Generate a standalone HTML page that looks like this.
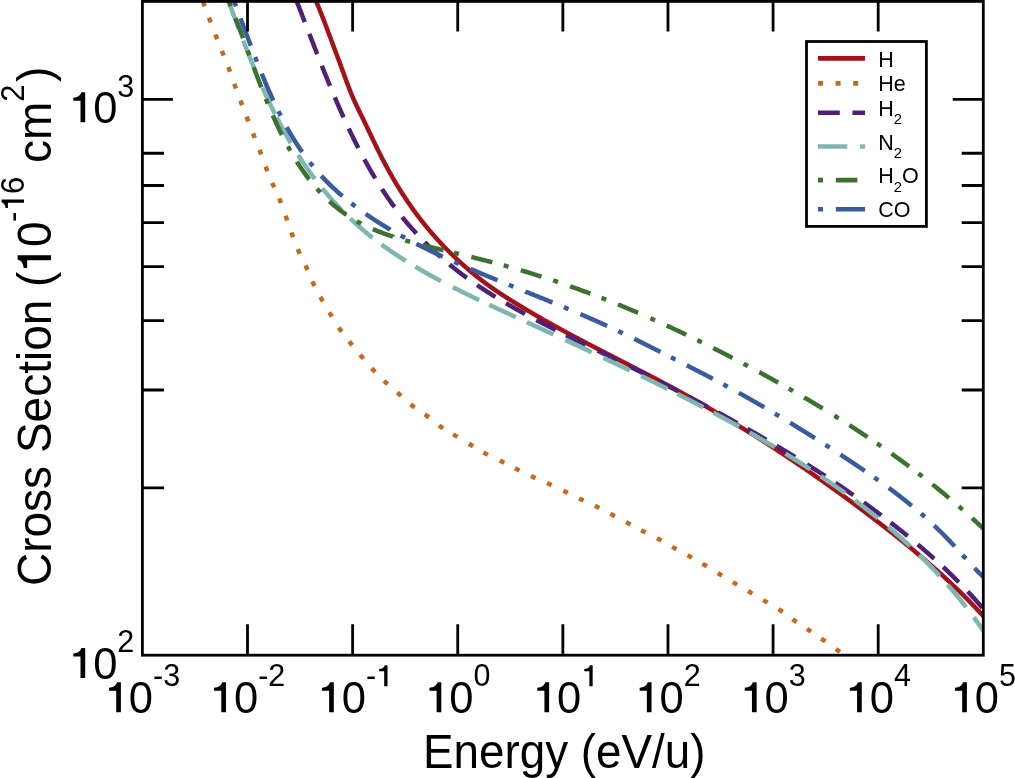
<!DOCTYPE html><html><head><meta charset="utf-8"><style>html,body{margin:0;padding:0;background:#fff;overflow:hidden}svg{display:block;will-change:transform}text{font-family:"Liberation Sans",sans-serif;fill:#000}</style></head><body>
<svg width="1015" height="778" viewBox="0 0 1015 778">
<defs><clipPath id="c"><rect x="142.4" y="1.4" width="840.9" height="653.8000000000001"/></clipPath></defs>
<rect width="1015" height="778" fill="#fff"/>
<g clip-path="url(#c)" fill="none" stroke-width="4.5" stroke-linecap="butt" stroke-linejoin="round">
<path d="M312.23,-8.03 L312.61,-7.11 L313.00,-6.18 L313.39,-5.26 L313.77,-4.34 L314.16,-3.42 L314.54,-2.49 L314.93,-1.57 L315.31,-0.65 L315.70,0.27 L316.09,1.20 L316.47,2.12 L316.86,3.04 L317.16,3.74 L317.45,4.45 L317.75,5.15 L318.04,5.86 L318.34,6.56 L318.63,7.27 L318.92,7.98 L319.21,8.69 L319.50,9.40 L319.79,10.11 L320.08,10.82 L320.36,11.54 L320.65,12.25 L320.93,12.97 L321.22,13.68 L321.50,14.40 L321.78,15.12 L322.06,15.84 L322.35,16.55 L322.63,17.27 L322.91,17.99 L323.19,18.71 L323.46,19.44 L323.74,20.16 L324.02,20.88 L324.30,21.60 L324.57,22.33 L324.85,23.05 L325.12,23.78 L325.40,24.50 L325.67,25.23 L325.95,25.95 L326.22,26.68 L326.50,27.40 L326.77,28.13 L327.04,28.86 L327.31,29.59 L327.59,30.31 L327.86,31.04 L328.13,31.77 L328.40,32.50 L328.67,33.23 L328.95,33.95 L329.22,34.68 L329.49,35.41 L329.76,36.14 L330.03,36.87 L330.30,37.60 L330.57,38.33 L330.84,39.06 L331.12,39.78 L331.39,40.51 L331.66,41.24 L331.93,41.97 L332.20,42.70 L332.47,43.43 L332.75,44.15 L333.02,44.88 L333.29,45.61 L333.56,46.34 L333.84,47.06 L334.11,47.79 L334.38,48.52 L334.66,49.24 L334.93,49.97 L335.20,50.70 L335.48,51.42 L335.75,52.15 L336.03,52.87 L336.30,53.60 L336.57,54.33 L336.85,55.05 L337.12,55.78 L337.39,56.51 L337.67,57.23 L337.94,57.96 L338.21,58.69 L338.48,59.42 L338.75,60.15 L339.03,60.87 L339.30,61.60 L339.57,62.33 L339.84,63.06 L340.11,63.79 L340.38,64.52 L340.64,65.26 L340.91,65.99 L341.18,66.72 L341.45,67.45 L341.71,68.19 L341.98,68.92 L342.25,69.65 L342.51,70.39 L342.78,71.12 L343.04,71.86 L343.31,72.59 L343.57,73.33 L343.84,74.06 L344.10,74.80 L344.37,75.53 L344.63,76.27 L344.90,77.00 L345.17,77.73 L345.43,78.47 L345.70,79.20 L345.97,79.93 L346.24,80.66 L346.51,81.39 L346.78,82.12 L347.05,82.85 L347.32,83.58 L347.59,84.31 L347.87,85.03 L348.14,85.76 L348.42,86.48 L348.70,87.20 L348.97,87.93 L349.25,88.65 L349.53,89.37 L349.82,90.08 L350.10,90.80 L350.39,91.51 L350.67,92.23 L350.96,92.94 L351.25,93.65 L351.54,94.36 L351.84,95.06 L352.13,95.77 L352.43,96.47 L352.73,97.17 L353.03,97.87 L353.33,98.57 L353.64,99.26 L353.95,99.95 L354.26,100.64 L354.57,101.33 L354.88,102.02 L355.20,102.70 L355.51,103.39 L355.83,104.07 L356.15,104.75 L356.47,105.43 L356.79,106.11 L357.11,106.79 L357.44,107.46 L357.76,108.14 L358.09,108.81 L358.41,109.49 L358.74,110.16 L359.07,110.83 L359.39,111.51 L359.72,112.18 L360.05,112.85 L360.38,113.52 L360.71,114.19 L361.04,114.86 L361.37,115.53 L361.70,116.20 L362.03,116.87 L362.36,117.54 L362.69,118.21 L363.02,118.88 L363.34,119.56 L363.67,120.23 L364.00,120.90 L364.33,121.57 L364.65,122.25 L364.98,122.92 L365.30,123.60 L365.63,124.27 L365.95,124.95 L366.28,125.62 L366.60,126.30 L366.92,126.98 L367.25,127.65 L367.57,128.33 L367.89,129.01 L368.21,129.69 L368.54,130.36 L368.86,131.04 L369.18,131.72 L369.50,132.40 L369.83,133.07 L370.15,133.75 L370.47,134.43 L370.79,135.11 L371.11,135.79 L371.44,136.46 L371.76,137.14 L372.08,137.82 L372.40,138.50 L372.73,139.17 L373.05,139.85 L373.37,140.53 L373.70,141.20 L374.02,141.88 L374.34,142.56 L374.67,143.23 L374.99,143.91 L375.32,144.58 L375.65,145.25 L375.97,145.93 L376.30,146.60 L376.63,147.27 L376.95,147.95 L377.28,148.62 L377.61,149.29 L377.94,149.96 L378.27,150.63 L378.60,151.30 L378.93,151.97 L379.27,152.63 L379.60,153.30 L379.94,153.96 L380.27,154.63 L380.61,155.29 L380.94,155.96 L381.28,156.62 L381.62,157.28 L381.96,157.94 L382.30,158.60 L382.64,159.26 L382.98,159.92 L383.32,160.58 L383.67,161.23 L384.01,161.89 L384.35,162.55 L384.70,163.20 L385.05,163.85 L385.39,164.51 L385.74,165.16 L386.09,165.81 L386.44,166.46 L386.79,167.11 L387.14,167.76 L387.50,168.40 L387.85,169.05 L388.20,169.70 L388.56,170.34 L388.92,170.98 L389.27,171.63 L389.63,172.27 L389.99,172.91 L390.35,173.55 L390.71,174.19 L391.07,174.83 L391.43,175.47 L391.80,176.10 L392.16,176.74 L392.53,177.37 L392.89,178.01 L393.26,178.64 L393.63,179.27 L393.99,179.91 L394.36,180.54 L394.73,181.17 L395.11,181.79 L395.48,182.42 L395.85,183.05 L396.23,183.67 L396.60,184.30 L396.98,184.92 L397.35,185.55 L397.73,186.17 L398.11,186.79 L398.49,187.41 L398.87,188.03 L399.25,188.65 L399.64,189.26 L400.02,189.88 L400.41,190.49 L400.79,191.11 L401.18,191.72 L401.57,192.33 L401.96,192.94 L402.34,193.56 L402.74,194.16 L403.13,194.77 L403.52,195.38 L403.91,195.99 L404.31,196.59 L404.70,197.20 L405.10,197.80 L405.50,198.40 L405.90,199.00 L406.30,199.60 L406.70,200.20 L407.10,200.80 L407.50,201.40 L407.91,201.99 L408.31,202.59 L408.72,203.18 L409.12,203.78 L409.53,204.37 L409.94,204.96 L410.35,205.55 L410.76,206.14 L411.17,206.73 L411.59,207.31 L412.00,207.90 L412.42,208.48 L412.83,209.07 L413.25,209.65 L413.67,210.23 L414.09,210.81 L414.51,211.39 L414.93,211.97 L415.36,212.54 L415.78,213.12 L416.20,213.70 L416.63,214.27 L417.06,214.84 L417.49,215.41 L417.92,215.98 L418.35,216.55 L418.78,217.12 L419.21,217.69 L419.64,218.26 L420.08,218.82 L420.52,219.38 L420.95,219.95 L421.39,220.51 L421.83,221.07 L422.27,221.63 L422.71,222.19 L423.16,222.74 L423.60,223.30 L424.04,223.86 L424.49,224.41 L424.94,224.96 L425.39,225.51 L425.83,226.07 L426.28,226.62 L426.74,227.16 L427.19,227.71 L427.64,228.26 L428.10,228.80 L428.55,229.35 L429.01,229.89 L429.47,230.43 L429.93,230.97 L430.39,231.51 L430.85,232.05 L431.31,232.59 L431.77,233.13 L432.24,233.66 L432.70,234.20 L433.17,234.73 L433.64,235.26 L434.10,235.80 L434.57,236.33 L435.05,236.85 L435.52,237.38 L435.99,237.91 L436.46,238.44 L436.94,238.96 L437.41,239.49 L437.89,240.01 L438.37,240.53 L438.85,241.05 L439.33,241.57 L439.81,242.09 L440.29,242.61 L440.78,243.12 L441.26,243.64 L441.74,244.16 L442.23,244.67 L442.72,245.18 L443.21,245.69 L443.70,246.20 L444.19,246.71 L444.68,247.22 L445.17,247.73 L445.66,248.24 L446.16,248.74 L446.66,249.24 L447.15,249.75 L447.65,250.25 L448.15,250.75 L448.65,251.25 L449.15,251.75 L449.65,252.25 L450.15,252.75 L450.66,253.24 L451.16,253.74 L451.67,254.23 L452.17,254.73 L452.68,255.22 L453.19,255.71 L453.70,256.20 L454.21,256.69 L454.72,257.18 L455.24,257.66 L455.75,258.15 L456.27,258.63 L456.78,259.12 L457.30,259.60 L457.82,260.08 L458.34,260.56 L458.86,261.04 L459.38,261.52 L459.90,262.00 L460.42,262.48 L460.95,262.95 L461.47,263.43 L462.00,263.90 L462.52,264.38 L463.05,264.85 L463.58,265.32 L464.11,265.79 L464.64,266.26 L465.17,266.73 L465.70,267.20 L466.24,267.66 L466.77,268.13 L467.31,268.59 L467.85,269.05 L468.38,269.52 L468.92,269.98 L469.46,270.44 L470.00,270.90 L470.55,271.35 L471.09,271.81 L471.64,272.26 L472.18,272.72 L472.73,273.17 L473.28,273.62 L473.83,274.07 L474.38,274.52 L474.93,274.97 L475.48,275.42 L476.04,275.86 L476.59,276.31 L477.15,276.75 L477.70,277.20 L478.26,277.64 L478.82,278.08 L479.38,278.52 L479.94,278.96 L480.51,279.39 L481.07,279.83 L481.64,280.26 L482.20,280.70 L482.77,281.13 L483.34,281.56 L483.91,281.99 L484.48,282.42 L485.05,282.85 L485.63,283.27 L486.20,283.70 L486.78,284.12 L487.35,284.55 L487.93,284.97 L488.51,285.39 L489.09,285.81 L489.68,286.22 L490.26,286.64 L490.84,287.06 L491.43,287.47 L492.01,287.89 L492.60,288.30 L493.19,288.71 L493.78,289.12 L494.37,289.53 L494.97,289.93 L495.56,290.34 L496.15,290.75 L496.75,291.15 L497.35,291.55 L497.94,291.96 L498.54,292.36 L499.14,292.76 L499.74,293.16 L500.35,293.55 L500.95,293.95 L501.55,294.35 L502.16,294.74 L502.77,295.13 L503.37,295.53 L503.98,295.92 L504.59,296.31 L505.20,296.70 L505.81,297.09 L506.42,297.48 L507.03,297.87 L507.64,298.26 L508.26,298.64 L508.87,299.03 L509.49,299.41 L510.10,299.80 L510.72,300.18 L511.33,300.57 L511.95,300.95 L512.57,301.33 L513.19,301.71 L513.80,302.10 L514.42,302.48 L515.04,302.86 L515.66,303.24 L516.28,303.62 L516.90,304.00 L517.52,304.38 L518.15,304.75 L518.77,305.13 L519.39,305.51 L520.01,305.89 L520.64,306.26 L521.26,306.64 L521.88,307.02 L522.51,307.39 L523.13,307.77 L523.75,308.15 L524.38,308.52 L525.00,308.90 L525.63,309.27 L526.25,309.65 L526.88,310.02 L527.50,310.40 L528.13,310.77 L528.75,311.15 L529.38,311.52 L530.01,311.89 L530.64,312.26 L531.26,312.64 L531.89,313.01 L532.52,313.38 L533.15,313.75 L533.78,314.12 L534.42,314.48 L535.05,314.85 L535.68,315.22 L536.31,315.59 L536.95,315.95 L537.58,316.32 L538.21,316.69 L538.85,317.05 L539.48,317.42 L540.12,317.78 L540.75,318.15 L541.39,318.51 L542.02,318.88 L542.66,319.24 L543.30,319.60 L543.94,319.96 L544.57,320.33 L545.21,320.69 L545.85,321.05 L546.49,321.41 L547.13,321.77 L547.77,322.13 L548.41,322.49 L549.05,322.85 L549.69,323.21 L550.33,323.57 L550.98,323.92 L551.62,324.28 L552.26,324.64 L552.90,325.00 L553.55,325.35 L554.19,325.71 L554.83,326.07 L555.48,326.42 L556.12,326.78 L556.77,327.13 L557.41,327.49 L558.06,327.84 L558.70,328.20 L559.35,328.55 L560.00,328.90 L560.64,329.26 L561.29,329.61 L561.94,329.96 L562.59,330.31 L563.23,330.67 L563.88,331.02 L564.53,331.37 L565.18,331.72 L565.83,332.07 L566.48,332.42 L567.13,332.77 L567.78,333.12 L568.43,333.47 L569.08,333.82 L569.73,334.17 L570.38,334.52 L571.03,334.87 L571.68,335.22 L572.34,335.56 L572.99,335.91 L573.64,336.26 L574.29,336.61 L574.95,336.95 L575.60,337.30 L576.25,337.65 L576.90,338.00 L577.56,338.34 L578.21,338.69 L578.87,339.03 L579.52,339.38 L580.18,339.72 L580.83,340.07 L581.49,340.41 L582.14,340.76 L582.80,341.10 L583.45,341.45 L584.11,341.79 L584.76,342.14 L585.42,342.48 L586.08,342.82 L586.73,343.17 L587.39,343.51 L588.04,343.86 L588.70,344.20 L589.36,344.54 L590.02,344.88 L590.67,345.23 L591.33,345.57 L591.99,345.91 L592.65,346.25 L593.30,346.60 L593.96,346.94 L594.62,347.28 L595.28,347.62 L595.94,347.96 L596.60,348.30 L597.25,348.65 L597.91,348.99 L598.57,349.33 L599.23,349.67 L599.89,350.01 L600.55,350.35 L601.21,350.69 L601.87,351.03 L602.53,351.37 L603.19,351.71 L603.85,352.05 L604.51,352.39 L605.17,352.73 L605.83,353.07 L606.49,353.41 L607.15,353.75 L607.81,354.09 L608.47,354.43 L609.13,354.77 L609.79,355.11 L610.45,355.45 L611.11,355.79 L611.77,356.13 L612.43,356.47 L613.09,356.81 L613.75,357.15 L614.41,357.49 L615.07,357.83 L615.73,358.17 L616.39,358.51 L617.05,358.85 L617.71,359.19 L618.37,359.53 L619.04,359.86 L619.70,360.20 L620.36,360.54 L621.02,360.88 L621.68,361.22 L622.34,361.56 L623.00,361.90 L623.66,362.24 L624.32,362.58 L624.98,362.92 L625.64,363.26 L626.30,363.60 L626.96,363.94 L627.62,364.28 L628.28,364.62 L628.94,364.96 L629.60,365.30 L630.26,365.64 L630.92,365.98 L631.58,366.32 L632.24,366.66 L632.90,367.00 L633.56,367.34 L634.22,367.68 L634.88,368.02 L635.54,368.36 L636.20,368.70 L636.86,369.04 L637.52,369.38 L638.18,369.72 L638.84,370.06 L639.50,370.40 L640.16,370.74 L640.82,371.08 L641.48,371.42 L642.13,371.77 L642.79,372.11 L643.45,372.45 L644.11,372.79 L644.77,373.13 L645.43,373.47 L646.08,373.82 L646.74,374.16 L647.40,374.50 L648.06,374.84 L648.71,375.19 L649.37,375.53 L650.03,375.87 L650.68,376.22 L651.34,376.56 L652.00,376.90 L652.65,377.25 L653.31,377.59 L653.97,377.93 L654.62,378.28 L655.28,378.62 L655.93,378.97 L656.59,379.31 L657.24,379.66 L657.90,380.00 L658.55,380.35 L659.21,380.69 L659.86,381.04 L660.51,381.39 L661.17,381.73 L661.82,382.08 L662.47,382.43 L663.13,382.77 L663.78,383.12 L664.43,383.47 L665.09,383.81 L665.74,384.16 L666.39,384.51 L667.04,384.86 L667.69,385.21 L668.34,385.56 L668.99,385.91 L669.65,386.25 L670.30,386.60 L670.95,386.95 L671.60,387.30 L672.25,387.65 L672.89,388.01 L673.54,388.36 L674.19,388.71 L674.84,389.06 L675.49,389.41 L676.14,389.76 L676.78,390.12 L677.43,390.47 L678.08,390.82 L678.72,391.18 L679.37,391.53 L680.02,391.88 L680.66,392.24 L681.31,392.59 L681.95,392.95 L682.60,393.30 L683.24,393.66 L683.89,394.01 L684.53,394.37 L685.18,394.72 L685.82,395.08 L686.46,395.44 L687.11,395.79 L687.75,396.15 L688.39,396.51 L689.03,396.87 L689.68,397.22 L690.32,397.58 L690.96,397.94 L691.60,398.30 L692.24,398.66 L692.88,399.02 L693.52,399.38 L694.16,399.74 L694.80,400.10 L695.44,400.46 L696.08,400.82 L696.72,401.18 L697.36,401.54 L698.00,401.90 L698.63,402.27 L699.27,402.63 L699.91,402.99 L700.55,403.35 L701.18,403.72 L701.82,404.08 L702.46,404.44 L703.09,404.81 L703.73,405.17 L704.36,405.54 L705.00,405.90 L705.63,406.27 L706.27,406.63 L706.90,407.00 L707.54,407.36 L708.17,407.73 L708.80,408.10 L709.44,408.46 L710.07,408.83 L710.70,409.20 L711.34,409.56 L711.97,409.93 L712.60,410.30 L713.23,410.67 L713.86,411.04 L714.49,411.41 L715.13,411.77 L715.76,412.14 L716.39,412.51 L717.02,412.88 L717.65,413.25 L718.28,413.62 L718.91,413.99 L719.53,414.37 L720.16,414.74 L720.79,415.11 L721.42,415.48 L722.05,415.85 L722.68,416.22 L723.30,416.60 L723.93,416.97 L724.56,417.34 L725.18,417.72 L725.81,418.09 L726.44,418.46 L727.06,418.84 L727.69,419.21 L728.31,419.59 L728.94,419.96 L729.56,420.34 L730.19,420.71 L730.81,421.09 L731.44,421.46 L732.06,421.84 L732.68,422.22 L733.31,422.59 L733.93,422.97 L734.55,423.35 L735.17,423.73 L735.80,424.10 L736.42,424.48 L737.04,424.86 L737.66,425.24 L738.28,425.62 L738.90,426.00 L739.52,426.38 L740.14,426.76 L740.76,427.14 L741.38,427.52 L742.00,427.90 L742.62,428.28 L743.24,428.66 L743.86,429.04 L744.48,429.42 L745.10,429.80 L745.71,430.19 L746.33,430.57 L746.95,430.95 L747.57,431.33 L748.18,431.72 L748.80,432.10 L749.42,432.48 L750.03,432.87 L750.65,433.25 L751.26,433.64 L751.88,434.02 L752.49,434.41 L753.11,434.79 L753.72,435.18 L754.34,435.56 L754.95,435.95 L755.57,436.33 L756.18,436.72 L756.79,437.11 L757.40,437.50 L758.02,437.88 L758.63,438.27 L759.24,438.66 L759.85,439.05 L760.47,439.43 L761.08,439.82 L761.69,440.21 L762.30,440.60 L762.91,440.99 L763.52,441.38 L764.13,441.77 L764.74,442.16 L765.35,442.55 L765.96,442.94 L766.57,443.33 L767.18,443.72 L767.79,444.11 L768.40,444.50 L769.00,444.90 L769.61,445.29 L770.22,445.68 L770.83,446.07 L771.43,446.47 L772.04,446.86 L772.65,447.25 L773.25,447.65 L773.86,448.04 L774.47,448.43 L775.07,448.83 L775.68,449.22 L776.28,449.62 L776.89,450.01 L777.49,450.41 L778.10,450.80 L778.70,451.20 L779.30,451.60 L779.91,451.99 L780.51,452.39 L781.11,452.79 L781.72,453.18 L782.32,453.58 L782.92,453.98 L783.52,454.38 L784.13,454.77 L784.73,455.17 L785.33,455.57 L785.93,455.97 L786.53,456.37 L787.13,456.77 L787.73,457.17 L788.33,457.57 L788.93,457.97 L789.53,458.37 L790.13,458.77 L790.73,459.17 L791.33,459.57 L791.93,459.97 L792.53,460.37 L793.13,460.77 L793.72,461.18 L794.32,461.58 L794.92,461.98 L795.52,462.38 L796.11,462.79 L796.71,463.19 L797.31,463.59 L797.90,464.00 L798.50,464.40 L799.09,464.81 L799.69,465.21 L800.29,465.61 L800.88,466.02 L801.48,466.42 L802.07,466.83 L802.66,467.24 L803.26,467.64 L803.85,468.05 L804.45,468.45 L805.04,468.86 L805.63,469.27 L806.23,469.67 L806.82,470.08 L807.41,470.49 L808.00,470.90 L808.59,471.31 L809.19,471.71 L809.78,472.12 L810.37,472.53 L810.96,472.94 L811.55,473.35 L812.14,473.76 L812.73,474.17 L813.32,474.58 L813.91,474.99 L814.50,475.40 L815.09,475.81 L815.68,476.22 L816.27,476.63 L816.86,477.04 L817.45,477.45 L818.03,477.87 L818.62,478.28 L819.21,478.69 L819.80,479.10 L820.38,479.52 L820.97,479.93 L821.56,480.34 L822.14,480.76 L822.73,481.17 L823.32,481.58 L823.90,482.00 L824.49,482.41 L825.07,482.83 L825.66,483.24 L826.24,483.66 L826.83,484.07 L827.41,484.49 L828.00,484.90 L828.58,485.32 L829.16,485.74 L829.75,486.15 L830.33,486.57 L830.91,486.99 L831.50,487.40 L832.08,487.82 L832.66,488.24 L833.24,488.66 L833.83,489.07 L834.41,489.49 L834.99,489.91 L835.57,490.33 L836.15,490.75 L836.73,491.17 L837.31,491.59 L837.89,492.01 L838.47,492.43 L839.05,492.85 L839.63,493.27 L840.21,493.69 L840.79,494.11 L841.37,494.53 L841.95,494.95 L842.53,495.37 L843.10,495.80 L843.68,496.22 L844.26,496.64 L844.84,497.06 L845.42,497.48 L845.99,497.91 L846.57,498.33 L847.15,498.75 L847.72,499.18 L848.30,499.60 L848.87,500.03 L849.45,500.45 L850.03,500.87 L850.60,501.30 L851.18,501.72 L851.75,502.15 L852.33,502.57 L852.90,503.00 L853.47,503.43 L854.05,503.85 L854.62,504.28 L855.20,504.70 L855.77,505.13 L856.34,505.56 L856.92,505.98 L857.49,506.41 L858.06,506.84 L858.63,507.27 L859.20,507.70 L859.78,508.12 L860.35,508.55 L860.92,508.98 L861.49,509.41 L862.06,509.84 L862.63,510.27 L863.20,510.70 L863.77,511.13 L864.34,511.56 L864.91,511.99 L865.48,512.42 L866.05,512.85 L866.62,513.28 L867.19,513.71 L867.76,514.14 L868.33,514.57 L868.89,515.01 L869.46,515.44 L870.03,515.87 L870.60,516.30 L871.17,516.73 L871.73,517.17 L872.30,517.60 L872.87,518.03 L873.43,518.47 L874.00,518.90 L874.57,519.33 L875.13,519.77 L875.70,520.20 L876.26,520.64 L876.83,521.07 L877.39,521.51 L877.96,521.94 L878.52,522.38 L879.09,522.81 L879.65,523.25 L880.21,523.69 L880.78,524.12 L881.34,524.56 L881.91,524.99 L882.47,525.43 L883.03,525.87 L883.59,526.31 L884.16,526.74 L884.72,527.18 L885.28,527.62 L885.84,528.06 L886.40,528.50 L886.96,528.94 L887.52,529.38 L888.08,529.82 L888.64,530.26 L889.20,530.70 L889.76,531.14 L890.32,531.58 L890.88,532.02 L891.44,532.46 L892.00,532.90 L892.56,533.34 L893.12,533.78 L893.68,534.22 L894.23,534.67 L894.79,535.11 L895.35,535.55 L895.90,536.00 L896.46,536.44 L897.02,536.88 L897.57,537.33 L898.13,537.77 L898.68,538.22 L899.24,538.66 L899.79,539.11 L900.35,539.55 L900.90,540.00 L901.45,540.45 L902.01,540.89 L902.56,541.34 L903.11,541.79 L903.67,542.23 L904.22,542.68 L904.77,543.13 L905.32,543.58 L905.87,544.03 L906.42,544.48 L906.97,544.93 L907.52,545.38 L908.07,545.83 L908.62,546.28 L909.17,546.73 L909.72,547.18 L910.27,547.63 L910.82,548.08 L911.36,548.54 L911.91,548.99 L912.46,549.44 L913.00,549.90 L913.55,550.35 L914.10,550.80 L914.64,551.26 L915.19,551.71 L915.73,552.17 L916.28,552.62 L916.82,553.08 L917.36,553.54 L917.91,553.99 L918.45,554.45 L918.99,554.91 L919.54,555.36 L920.08,555.82 L920.62,556.28 L921.16,556.74 L921.70,557.20 L922.24,557.66 L922.78,558.12 L923.32,558.58 L923.86,559.04 L924.40,559.50 L924.94,559.96 L925.47,560.43 L926.01,560.89 L926.55,561.35 L927.08,561.82 L927.62,562.28 L928.16,562.74 L928.69,563.21 L929.23,563.67 L929.76,564.14 L930.30,564.60 L930.83,565.07 L931.36,565.54 L931.90,566.00 L932.43,566.47 L932.96,566.94 L933.49,567.41 L934.02,567.88 L934.55,568.35 L935.08,568.82 L935.61,569.29 L936.14,569.76 L936.67,570.23 L937.20,570.70 L937.73,571.17 L938.25,571.65 L938.78,572.12 L939.31,572.59 L939.83,573.07 L940.36,573.54 L940.88,574.02 L941.41,574.49 L941.93,574.97 L942.46,575.44 L942.98,575.92 L943.50,576.40 L944.02,576.88 L944.55,577.35 L945.07,577.83 L945.59,578.31 L946.11,578.79 L946.63,579.27 L947.15,579.75 L947.67,580.23 L948.18,580.72 L948.70,581.20 L949.22,581.68 L949.74,582.16 L950.25,582.65 L950.77,583.13 L951.28,583.62 L951.80,584.10 L952.31,584.59 L952.83,585.07 L953.34,585.56 L953.85,586.05 L954.36,586.54 L954.87,587.03 L955.39,587.51 L955.90,588.00 L956.41,588.49 L956.92,588.98 L957.42,589.48 L957.93,589.97 L958.44,590.46 L958.95,590.95 L959.45,591.45 L959.96,591.94 L960.47,592.43 L960.97,592.93 L961.47,593.43 L961.98,593.92 L962.48,594.42 L962.98,594.92 L963.49,595.41 L963.99,595.91 L964.49,596.41 L964.99,596.91 L965.49,597.41 L965.99,597.91 L966.49,598.41 L966.99,598.91 L967.48,599.42 L967.98,599.92 L968.48,600.42 L968.97,600.93 L969.47,601.43 L969.96,601.94 L970.46,602.44 L970.95,602.95 L971.44,603.46 L971.94,603.96 L972.43,604.47 L972.92,604.98 L973.41,605.49 L973.90,606.00 L974.39,606.51 L974.88,607.02 L975.36,607.54 L975.85,608.05 L976.34,608.56 L976.82,609.08 L977.31,609.59 L977.79,610.11 L978.28,610.62 L978.76,611.14 L979.24,611.66 L979.73,612.17 L980.21,612.69 L980.69,613.21 L981.37,613.94 L982.05,614.67 L982.74,615.40 L983.42,616.14 L984.10,616.87 L984.78,617.60 L985.46,618.33 L986.15,619.06 L986.83,619.79 L987.51,620.52 L988.19,621.26 L988.87,621.99" stroke="#a51118"/>
<g fill="#c36a1c" stroke="none"><rect x="-2.5" y="-2.25" width="5" height="4.5" transform="translate(203.8,3.9) rotate(69.2)"/><rect x="-2.5" y="-2.25" width="5" height="4.5" transform="translate(209.9,20.0) rotate(69.2)"/><rect x="-2.5" y="-2.25" width="5" height="4.5" transform="translate(216.3,36.8) rotate(68.8)"/><rect x="-2.5" y="-2.25" width="5" height="4.5" transform="translate(222.8,53.2) rotate(68.4)"/><rect x="-2.5" y="-2.25" width="5" height="4.5" transform="translate(229.2,69.4) rotate(69.5)"/><rect x="-2.5" y="-2.25" width="5" height="4.5" transform="translate(235.1,86.1) rotate(70.1)"/><rect x="-2.5" y="-2.25" width="5" height="4.5" transform="translate(241.3,102.8) rotate(69.3)"/><rect x="-2.5" y="-2.25" width="5" height="4.5" transform="translate(247.5,119.0) rotate(69.0)"/><rect x="-2.5" y="-2.25" width="5" height="4.5" transform="translate(253.9,135.7) rotate(68.9)"/><rect x="-2.5" y="-2.25" width="5" height="4.5" transform="translate(260.3,152.2) rotate(69.2)"/><rect x="-2.5" y="-2.25" width="5" height="4.5" transform="translate(266.5,168.9) rotate(68.6)"/><rect x="-2.5" y="-2.25" width="5" height="4.5" transform="translate(273.2,185.1) rotate(66.8)"/><rect x="-2.5" y="-2.25" width="5" height="4.5" transform="translate(280.1,200.7) rotate(68.2)"/><rect x="-2.5" y="-2.25" width="5" height="4.5" transform="translate(286.4,218.1) rotate(70.3)"/><rect x="-2.5" y="-2.25" width="5" height="4.5" transform="translate(292.3,234.8) rotate(69.6)"/><rect x="-2.5" y="-2.25" width="5" height="4.5" transform="translate(298.8,251.5) rotate(66.7)"/><rect x="-2.5" y="-2.25" width="5" height="4.5" transform="translate(306.5,267.7) rotate(65.6)"/><rect x="-2.5" y="-2.25" width="5" height="4.5" transform="translate(313.4,283.7) rotate(64.3)"/><rect x="-2.5" y="-2.25" width="5" height="4.5" transform="translate(321.6,299.1) rotate(60.8)"/><rect x="-2.5" y="-2.25" width="5" height="4.5" transform="translate(330.6,314.5) rotate(58.7)"/><rect x="-2.5" y="-2.25" width="5" height="4.5" transform="translate(340.2,329.7) rotate(55.1)"/><rect x="-2.5" y="-2.25" width="5" height="4.5" transform="translate(350.7,343.3) rotate(51.3)"/><rect x="-2.5" y="-2.25" width="5" height="4.5" transform="translate(361.8,356.7) rotate(49.7)"/><rect x="-2.5" y="-2.25" width="5" height="4.5" transform="translate(373.4,370.1) rotate(47.1)"/><rect x="-2.5" y="-2.25" width="5" height="4.5" transform="translate(385.8,382.5) rotate(43.0)"/><rect x="-2.5" y="-2.25" width="5" height="4.5" transform="translate(399.2,394.2) rotate(41.1)"/><rect x="-2.5" y="-2.25" width="5" height="4.5" transform="translate(412.6,405.9) rotate(38.1)"/><rect x="-2.5" y="-2.25" width="5" height="4.5" transform="translate(426.9,415.9) rotate(36.5)"/><rect x="-2.5" y="-2.25" width="5" height="4.5" transform="translate(441.0,426.9) rotate(34.7)"/><rect x="-2.5" y="-2.25" width="5" height="4.5" transform="translate(455.3,435.6) rotate(31.1)"/><rect x="-2.5" y="-2.25" width="5" height="4.5" transform="translate(471.0,445.0) rotate(30.8)"/><rect x="-2.5" y="-2.25" width="5" height="4.5" transform="translate(485.7,453.7) rotate(28.2)"/><rect x="-2.5" y="-2.25" width="5" height="4.5" transform="translate(502.1,461.7) rotate(26.5)"/><rect x="-2.5" y="-2.25" width="5" height="4.5" transform="translate(517.2,469.4) rotate(26.3)"/><rect x="-2.5" y="-2.25" width="5" height="4.5" transform="translate(533.2,477.1) rotate(24.6)"/><rect x="-2.5" y="-2.25" width="5" height="4.5" transform="translate(549.3,484.1) rotate(24.4)"/><rect x="-2.5" y="-2.25" width="5" height="4.5" transform="translate(565.6,491.8) rotate(25.7)"/><rect x="-2.5" y="-2.25" width="5" height="4.5" transform="translate(581.3,499.5) rotate(25.5)"/><rect x="-2.5" y="-2.25" width="5" height="4.5" transform="translate(597.1,506.8) rotate(26.3)"/><rect x="-2.5" y="-2.25" width="5" height="4.5" transform="translate(612.6,515.0) rotate(27.9)"/><rect x="-2.5" y="-2.25" width="5" height="4.5" transform="translate(628.3,523.3) rotate(27.9)"/><rect x="-2.5" y="-2.25" width="5" height="4.5" transform="translate(643.4,531.3) rotate(27.4)"/><rect x="-2.5" y="-2.25" width="5" height="4.5" transform="translate(659.2,539.3) rotate(28.5)"/><rect x="-2.5" y="-2.25" width="5" height="4.5" transform="translate(674.3,548.1) rotate(29.2)"/><rect x="-2.5" y="-2.25" width="5" height="4.5" transform="translate(689.8,556.4) rotate(29.1)"/><rect x="-2.5" y="-2.25" width="5" height="4.5" transform="translate(704.7,565.0) rotate(30.7)"/><rect x="-2.5" y="-2.25" width="5" height="4.5" transform="translate(719.9,574.3) rotate(31.3)"/><rect x="-2.5" y="-2.25" width="5" height="4.5" transform="translate(735.0,583.4) rotate(30.7)"/><rect x="-2.5" y="-2.25" width="5" height="4.5" transform="translate(750.2,592.3) rotate(30.6)"/><rect x="-2.5" y="-2.25" width="5" height="4.5" transform="translate(765.4,601.4) rotate(30.9)"/><rect x="-2.5" y="-2.25" width="5" height="4.5" transform="translate(780.6,610.5) rotate(33.5)"/><rect x="-2.5" y="-2.25" width="5" height="4.5" transform="translate(794.6,620.7) rotate(34.9)"/><rect x="-2.5" y="-2.25" width="5" height="4.5" transform="translate(809.0,630.3) rotate(33.9)"/><rect x="-2.5" y="-2.25" width="5" height="4.5" transform="translate(823.3,640.0) rotate(35.0)"/><rect x="-2.5" y="-2.25" width="5" height="4.5" transform="translate(837.9,650.5) rotate(35.7)"/></g>
<path d="M296.90,1.78 297.05,2.15 297.33,2.87 297.61,3.59 297.89,4.31 298.17,5.03 298.45,5.75 298.73,6.47 299.01,7.19 299.29,7.91 299.57,8.63 299.86,9.34 300.14,10.06 300.42,10.78 300.70,11.50 300.98,12.22 301.26,12.94 301.54,13.66 301.82,14.38 302.09,15.11 302.37,15.83 302.65,16.55 302.93,17.27 303.21,17.99 303.49,18.71 303.77,19.43 304.05,20.15 304.33,20.87 304.61,21.59 304.80,22.10M309.35,33.85 309.63,34.57 309.91,35.29 310.19,36.01 310.47,36.73 310.75,37.45 311.03,38.17 311.31,38.89 311.59,39.61 311.87,40.33 312.15,41.05 312.43,41.77 312.71,42.49 312.98,43.22 313.26,43.94 313.54,44.66 313.83,45.37 314.11,46.09 314.39,46.81 314.67,47.53 314.95,48.25 315.23,48.97 315.51,49.69 315.79,50.41 316.07,51.13 316.35,51.85 316.63,52.57 316.91,53.29 317.20,54.00 317.26,54.16M321.82,65.72 322.01,66.19 322.29,66.91 322.58,67.62 322.86,68.34 323.15,69.05 323.44,69.76 323.72,70.48 324.01,71.19 324.30,71.90 324.58,72.62 324.87,73.33 325.16,74.04 325.44,74.76 325.73,75.47 326.02,76.18 326.31,76.89 326.60,77.60 326.89,78.31 327.18,79.02 327.47,79.73 327.76,80.44 328.05,81.15 328.34,81.86 328.63,82.57 328.92,83.28 329.21,83.99 329.50,84.70 329.79,85.41 330.01,85.93M334.81,97.39 335.11,98.09 335.41,98.79 335.71,99.49 336.01,100.19 336.31,100.89 336.61,101.59 336.91,102.29 337.22,102.98 337.52,103.68 337.82,104.38 338.12,105.08 338.43,105.77 338.73,106.47 339.03,107.17 339.34,107.86 339.64,108.56 339.95,109.25 340.26,109.94 340.56,110.64 340.87,111.33 341.18,112.02 341.49,112.71 341.79,113.41 342.10,114.10 342.41,114.79 342.72,115.48 343.03,116.17 343.35,116.85 343.57,117.35M348.72,128.48 349.04,129.16 349.36,129.84 349.68,130.52 350.01,131.19 350.33,131.87 350.65,132.55 350.98,133.22 351.30,133.90 351.63,134.57 351.96,135.24 352.28,135.92 352.61,136.59 352.94,137.26 353.27,137.93 353.60,138.60 353.93,139.27 354.26,139.94 354.59,140.61 354.92,141.28 355.26,141.94 355.59,142.61 355.93,143.27 356.26,143.94 356.60,144.60 356.93,145.27 357.27,145.93 357.61,146.59 357.95,147.25 358.29,147.91 358.35,148.04M364.35,159.38 364.52,159.68 364.87,160.33 365.22,160.98 365.58,161.62 365.94,162.26 366.29,162.91 366.65,163.55 367.01,164.19 367.37,164.83 367.73,165.47 368.09,166.11 368.45,166.75 368.81,167.39 369.17,168.03 369.54,168.66 369.90,169.30 370.27,169.93 370.63,170.57 371.00,171.20 371.37,171.83 371.74,172.46 372.11,173.09 372.48,173.72 372.85,174.35 373.22,174.98 373.60,175.60 373.97,176.23 374.35,176.85 374.72,177.48 375.10,178.10 375.21,178.29M382.05,189.15 382.44,189.76 382.84,190.36 383.23,190.97 383.63,191.57 384.03,192.17 384.43,192.77 384.83,193.37 385.23,193.97 385.63,194.57 386.04,195.16 386.44,195.76 386.85,196.35 387.26,196.94 387.66,197.54 388.07,198.13 388.48,198.72 388.89,199.31 389.31,199.89 389.72,200.48 390.13,201.07 390.55,201.65 390.96,202.24 391.38,202.82 391.80,203.40 392.22,203.98 392.64,204.56 393.06,205.14 393.49,205.71 393.91,206.29 394.33,206.87 394.48,207.06M402.18,217.02 402.62,217.58 403.07,218.13 403.52,218.68 403.97,219.23 404.42,219.78 404.87,220.33 405.33,220.87 405.78,221.42 406.24,221.96 406.69,222.51 407.15,223.05 407.61,223.59 408.07,224.13 408.53,224.67 409.00,225.20 409.46,225.74 409.93,226.27 410.39,226.81 410.86,227.34 411.33,227.87 411.80,228.40 412.27,228.93 412.74,229.46 413.21,229.99 413.69,230.51 414.16,231.04 414.64,231.56 415.12,232.08 415.60,232.60 416.08,233.12 416.43,233.51M424.65,242.04 424.91,242.29 425.41,242.79 425.91,243.29 426.41,243.79 426.92,244.28 427.42,244.78 427.93,245.27 428.43,245.77 428.94,246.26 429.45,246.75 429.96,247.24 430.48,247.72 430.99,248.21 431.50,248.70 432.02,249.18 432.53,249.67 433.05,250.15 433.57,250.63 434.09,251.11 434.61,251.59 435.13,252.07 435.65,252.55 436.17,253.03 436.70,253.50 437.22,253.98 437.75,254.45 438.28,254.92 438.81,255.39 439.34,255.86 439.87,256.33 440.40,256.80 440.56,256.94M449.60,264.60 450.15,265.05 450.70,265.50 451.25,265.95 451.80,266.40 452.36,266.84 452.91,267.29 453.47,267.73 454.03,268.17 454.58,268.62 455.14,269.06 455.70,269.50 456.26,269.94 456.83,270.37 457.39,270.81 457.95,271.25 458.52,271.68 459.08,272.12 459.65,272.55 460.22,272.98 460.79,273.41 461.36,273.84 461.93,274.27 462.50,274.70 463.07,275.13 463.65,275.55 464.22,275.98 464.80,276.40 465.38,276.82 465.95,277.25 466.53,277.67 466.86,277.91M477.11,285.09 477.70,285.50 478.30,285.90 478.90,286.30 479.49,286.71 480.09,287.11 480.69,287.51 481.30,287.90 481.90,288.30 482.50,288.70 483.10,289.10 483.71,289.49 484.31,289.89 484.92,290.28 485.53,290.67 486.13,291.07 486.74,291.46 487.35,291.85 487.96,292.24 488.57,292.63 489.18,293.02 489.80,293.40 490.41,293.79 491.02,294.18 491.64,294.56 492.25,294.95 492.87,295.33 493.49,295.71 494.10,296.10 494.72,296.48 495.34,296.86 495.42,296.91M505.97,303.23 506.60,303.60 507.23,303.97 507.87,304.33 508.50,304.70 509.13,305.07 509.77,305.43 510.40,305.80 511.04,306.16 511.67,306.53 512.31,306.89 512.95,307.25 513.59,307.61 514.22,307.98 514.86,308.34 515.50,308.70 516.14,309.06 516.78,309.42 517.43,309.77 518.07,310.13 518.71,310.49 519.35,310.85 520.00,311.20 520.64,311.56 521.29,311.91 521.93,312.27 522.58,312.62 523.22,312.98 523.87,313.33 524.52,313.68 524.96,313.93M536.25,319.95 536.90,320.30 537.56,320.64 538.22,320.98 538.87,321.33 539.53,321.67 540.19,322.01 540.85,322.35 541.50,322.70 542.16,323.04 542.82,323.38 543.48,323.72 544.14,324.06 544.80,324.40 545.46,324.74 546.12,325.08 546.78,325.42 547.45,325.75 548.11,326.09 548.77,326.43 549.43,326.77 550.09,327.11 550.76,327.44 551.42,327.78 552.09,328.11 552.75,328.45 553.41,328.79 554.08,329.12 554.74,329.46 555.41,329.79 555.64,329.91M566.08,335.12 566.75,335.45 567.42,335.78 568.08,336.12 568.75,336.45 569.42,336.78 570.09,337.11 570.76,337.44 571.43,337.77 572.10,338.10 572.77,338.43 573.44,338.76 574.11,339.09 574.78,339.42 575.45,339.75 576.12,340.08 576.79,340.41 577.46,340.74 578.13,341.07 578.80,341.40 579.48,341.72 580.15,342.05 580.82,342.38 581.49,342.71 582.16,343.04 582.83,343.37 583.50,343.70 584.17,344.03 584.84,344.36 585.52,344.68 585.64,344.74M597.60,350.60 598.27,350.93 598.94,351.26 599.61,351.59 600.28,351.92 600.95,352.25 601.62,352.58 602.29,352.91 602.96,353.24 603.63,353.57 604.30,353.90 604.97,354.23 605.64,354.56 606.31,354.89 606.98,355.22 607.65,355.55 608.32,355.88 608.99,356.21 609.66,356.54 610.33,356.87 611.00,357.20 611.67,357.53 612.33,357.87 613.00,358.20 613.67,358.53 614.34,358.86 615.01,359.19 615.68,359.52 616.35,359.85 617.02,360.18 617.15,360.25M629.03,366.17 629.70,366.50 630.36,366.84 631.03,367.17 631.70,367.50 632.36,367.84 633.03,368.17 633.69,368.51 634.36,368.84 635.02,369.18 635.69,369.51 636.36,369.84 637.02,370.18 637.69,370.51 638.35,370.85 639.02,371.18 639.68,371.52 640.35,371.85 641.01,372.19 641.68,372.52 642.34,372.86 643.00,373.20 643.67,373.53 644.33,373.87 645.00,374.20 645.66,374.54 646.32,374.88 646.99,375.21 647.65,375.55 648.31,375.89 648.50,375.98M658.91,381.28 658.91,381.29 659.57,381.63 660.23,381.97 660.90,382.30 661.56,382.64 662.22,382.98 662.88,383.32 663.54,383.66 664.20,384.00 664.86,384.34 665.52,384.68 666.18,385.02 666.84,385.36 667.50,385.70 668.16,386.04 668.82,386.38 669.48,386.72 670.13,387.07 670.79,387.41 671.45,387.75 672.11,388.09 672.77,388.43 673.43,388.77 674.09,389.11 674.74,389.46 675.40,389.80 676.06,390.14 676.72,390.48 677.37,390.83 678.03,391.17 678.27,391.29M688.62,396.72 689.18,397.02 689.84,397.36 690.49,397.71 691.15,398.05 691.80,398.40 692.45,398.75 693.11,399.09 693.76,399.44 694.41,399.79 695.07,400.13 695.72,400.48 696.37,400.83 697.03,401.17 697.68,401.52 698.33,401.87 698.98,402.22 699.64,402.56 700.29,402.91 700.94,403.26 701.59,403.61 702.24,403.96 702.89,404.31 703.54,404.66 704.20,405.00 704.85,405.35 705.50,405.70 706.15,406.05 706.80,406.40 707.45,406.75 707.85,406.97M718.12,412.54 718.47,412.73 719.12,413.08 719.76,413.44 720.41,413.79 721.06,414.14 721.70,414.50 722.35,414.85 722.99,415.21 723.64,415.56 724.28,415.92 724.93,416.27 725.57,416.63 726.22,416.98 726.86,417.34 727.51,417.69 728.15,418.05 728.79,418.41 729.44,418.76 730.08,419.12 730.72,419.48 731.37,419.83 732.01,420.19 732.65,420.55 733.30,420.90 733.94,421.26 734.58,421.62 735.22,421.98 735.86,422.34 736.50,422.70 737.15,423.05 737.20,423.09M747.38,428.82 748.01,429.19 748.65,429.55 749.29,429.91 749.93,430.27 750.56,430.64 751.20,431.00 751.84,431.36 752.47,431.73 753.11,432.09 753.74,432.46 754.38,432.82 755.01,433.19 755.65,433.55 756.28,433.92 756.92,434.28 757.55,434.65 758.19,435.01 758.82,435.38 759.45,435.75 760.09,436.11 760.72,436.48 761.35,436.85 761.99,437.21 762.62,437.58 763.25,437.95 763.88,438.32 764.51,438.69 765.15,439.05 765.78,439.42 766.27,439.71M776.47,445.73 777.10,446.10 777.73,446.47 778.35,446.85 778.98,447.22 779.61,447.59 780.23,447.97 780.86,448.34 781.48,448.72 782.11,449.09 782.73,449.47 783.36,449.84 783.98,450.22 784.60,450.60 785.23,450.97 785.85,451.35 786.47,451.73 787.10,452.10 787.72,452.48 788.34,452.86 788.96,453.24 789.59,453.61 790.21,453.99 790.83,454.37 791.45,454.75 792.07,455.13 792.69,455.51 793.31,455.89 793.93,456.27 794.55,456.65 795.13,457.01M806.88,464.32 807.49,464.71 808.11,465.09 808.72,465.48 809.33,465.87 809.95,466.25 810.56,466.64 811.17,467.03 811.78,467.42 812.39,467.81 813.00,468.20 813.61,468.59 814.22,468.98 814.83,469.37 815.44,469.76 816.05,470.15 816.66,470.54 817.27,470.93 817.88,471.32 818.49,471.71 819.10,472.10 819.70,472.50 820.31,472.89 820.92,473.28 821.52,473.68 822.13,474.07 822.74,474.46 823.34,474.86 823.95,475.25 824.55,475.65 825.16,476.04 825.23,476.09M835.39,482.81 835.99,483.21 836.59,483.61 837.18,484.02 837.78,484.42 838.38,484.82 838.98,485.22 839.57,485.63 840.17,486.03 840.77,486.43 841.36,486.84 841.96,487.24 842.55,487.65 843.15,488.05 843.74,488.46 844.34,488.86 844.93,489.27 845.52,489.68 846.12,490.08 846.71,490.49 847.30,490.90 847.89,491.31 848.48,491.72 849.08,492.12 849.67,492.53 850.26,492.94 850.85,493.35 851.44,493.76 852.03,494.17 852.62,494.58 853.20,495.00 853.38,495.12M863.74,502.46 864.32,502.88 864.90,503.30 865.49,503.71 866.07,504.13 866.65,504.55 867.23,504.97 867.81,505.39 868.39,505.81 868.96,506.24 869.54,506.66 870.12,507.08 870.70,507.50 871.28,507.92 871.85,508.35 872.43,508.77 873.00,509.20 873.58,509.62 874.16,510.04 874.73,510.47 875.31,510.89 875.88,511.32 876.45,511.75 877.03,512.17 877.60,512.60 878.17,513.03 878.74,513.46 879.32,513.88 879.89,514.31 880.46,514.74 881.03,515.17 881.30,515.38M890.67,522.53 891.23,522.97 891.79,523.41 892.36,523.84 892.92,524.28 893.48,524.72 894.04,525.16 894.60,525.60 895.16,526.04 895.72,526.48 896.28,526.92 896.84,527.36 897.40,527.80 897.96,528.24 898.52,528.68 899.07,529.13 899.63,529.57 900.19,530.01 900.74,530.46 901.30,530.90 901.85,531.35 902.41,531.79 902.96,532.24 903.52,532.68 904.07,533.13 904.62,533.58 905.18,534.02 905.73,534.47 906.28,534.92 906.83,535.37 907.38,535.82 907.73,536.10M917.76,544.44 918.31,544.89 918.85,545.35 919.39,545.81 919.93,546.27 920.47,546.73 921.01,547.19 921.55,547.65 922.08,548.12 922.62,548.58 923.16,549.04 923.70,549.50 924.23,549.97 924.77,550.43 925.30,550.90 925.84,551.36 926.37,551.83 926.91,552.29 927.44,552.76 927.97,553.23 928.50,553.70 929.03,554.17 929.57,554.63 930.10,555.10 930.63,555.57 931.16,556.04 931.68,556.52 932.21,556.99 932.74,557.46 933.27,557.93 933.79,558.41 934.19,558.76M943.18,567.02 943.70,567.50 944.21,567.99 944.73,568.47 945.24,568.96 945.75,569.45 946.27,569.93 946.78,570.42 947.29,570.91 947.80,571.40 948.31,571.89 948.82,572.38 949.33,572.87 949.84,573.36 950.35,573.85 950.85,574.35 951.36,574.84 951.87,575.33 952.37,575.83 952.88,576.32 953.38,576.82 953.89,577.31 954.39,577.81 954.89,578.31 955.39,578.81 955.89,579.31 956.39,579.81 956.89,580.31 957.39,580.81 957.89,581.31 958.39,581.81 958.80,582.23M967.72,591.48 968.20,592.00 968.69,592.51 969.17,593.03 969.65,593.55 970.13,594.07 970.61,594.59 971.09,595.11 971.57,595.63 972.05,596.15 972.53,596.67 973.01,597.19 973.48,597.72 973.96,598.24 974.43,598.77 974.91,599.29 975.38,599.82 975.85,600.35 976.33,600.87 976.80,601.40 977.27,601.93 977.74,602.46 978.21,602.99 978.67,603.53 979.14,604.06 979.61,604.59 980.07,605.13 980.54,605.66 981.00,606.20 981.66,606.95 982.30,607.68" stroke="#4e2176"/>
<path d="M228.57,1.37 228.88,2.22 229.15,2.95 229.41,3.69 229.68,4.42 229.95,5.15 230.22,5.88 230.49,6.61 230.75,7.35 231.02,8.08 231.29,8.81 231.56,9.54 231.83,10.27 232.10,11.00 232.36,11.74 232.63,12.47 232.90,13.20 233.17,13.93 233.44,14.66 233.71,15.39 233.98,16.12 234.25,16.85 234.52,17.58 234.79,18.31 235.06,19.04 235.33,19.77 235.60,20.50 235.87,21.23 236.15,21.95 236.42,22.68 236.69,23.41 236.96,24.14 237.23,24.87 237.51,25.59 237.78,26.32 238.05,27.05 238.32,27.78 238.60,28.50 238.73,28.85M243.29,40.81 243.56,41.54 243.84,42.26 244.12,42.98 244.40,43.70 244.68,44.42 244.96,45.14 245.24,45.86 245.52,46.58 245.80,47.30 246.08,48.02 246.37,48.73 246.65,49.45 246.93,50.17 247.21,50.89 247.50,51.60 247.78,52.32 248.06,53.04 248.35,53.75 248.63,54.47 248.92,55.18 249.20,55.90 249.49,56.61 249.78,57.32 250.06,58.04 250.35,58.75 250.64,59.46 250.93,60.17 251.21,60.89 251.50,61.60 251.79,62.31 252.08,63.02 252.37,63.73 252.66,64.44 252.95,65.15 253.24,65.86 253.54,66.56 253.83,67.27 254.12,67.98 254.14,68.03M262.53,87.57 262.84,88.26 263.15,88.95 263.46,89.64 263.77,90.33 264.08,91.02 264.39,91.71 264.70,92.40 265.01,93.09 265.33,93.77 265.64,94.46 265.95,95.15 266.27,95.83 266.59,96.51 266.90,97.20 267.22,97.88 267.54,98.56 267.85,99.25 268.17,99.93 268.49,100.61 268.81,101.29 269.13,101.97 269.46,102.64 269.78,103.32 270.10,104.00 270.42,104.68 270.75,105.35 271.07,106.03 271.40,106.70 271.73,107.37 272.05,108.05 272.38,108.72 272.71,109.39 273.04,110.06 273.37,110.73 273.70,111.40 274.03,112.07 274.36,112.74 274.69,113.41 275.03,114.07M276.71,117.39 277.05,118.05 277.39,118.71 277.72,119.38 278.07,120.03 278.41,120.69 278.75,121.35 279.09,122.01 279.44,122.66 279.78,123.32 280.12,123.98 280.47,124.63 280.82,125.28 281.17,125.93 281.51,126.59 281.86,127.24 282.21,127.89 282.56,128.54 282.92,129.18 283.27,129.83 283.62,130.48 283.98,131.12 284.33,131.77 284.69,132.41 285.05,133.05 285.40,133.70 285.76,134.34 286.12,134.98 286.48,135.62 286.84,136.26 287.21,136.89 287.57,137.53 287.93,138.17 288.30,138.80 288.66,139.44 289.03,140.07 289.40,140.70 289.77,141.33 290.14,141.96 290.51,142.59 290.79,143.08M298.12,154.98 298.51,155.59 298.90,156.20 299.29,156.81 299.69,157.41 300.08,158.02 300.48,158.62 300.87,159.23 301.27,159.83 301.67,160.43 302.07,161.03 302.47,161.63 302.87,162.23 303.28,162.82 303.68,163.42 304.09,164.01 304.49,164.61 304.90,165.20 305.31,165.79 305.72,166.38 306.13,166.97 306.54,167.56 306.95,168.15 307.36,168.74 307.78,169.32 308.19,169.91 308.61,170.49 309.03,171.07 309.44,171.66 309.86,172.24 310.28,172.82 310.71,173.39 311.13,173.97 311.55,174.55 311.98,175.12 312.40,175.70 312.83,176.27 313.26,176.84 313.69,177.41 314.12,177.98 314.55,178.55 314.89,179.00M322.33,188.43 322.48,188.62 322.93,189.17 323.39,189.71 323.84,190.26 324.29,190.81 324.75,191.35 325.21,191.89 325.66,192.44 326.12,192.98 326.58,193.52 327.04,194.06 327.50,194.60 327.97,195.13 328.43,195.67 328.89,196.21 329.36,196.74 329.83,197.27 330.30,197.80 330.76,198.34 331.23,198.87 331.71,199.39 332.18,199.92 332.65,200.45 333.13,200.97 333.60,201.50 334.08,202.02 334.56,202.54 335.04,203.06 335.52,203.58 336.00,204.10 336.48,204.62 336.96,205.14 337.45,205.65 337.93,206.17 338.42,206.68 338.91,207.19 339.39,207.71 339.88,208.22 340.37,208.73 340.87,209.23 341.36,209.74 341.85,210.25 341.86,210.25M350.42,218.68 350.94,219.16 351.45,219.65 351.97,220.13 352.49,220.61 353.00,221.10 353.52,221.58 354.05,222.05 354.57,222.53 355.09,223.01 355.61,223.49 356.14,223.96 356.67,224.43 357.19,224.91 357.72,225.38 358.25,225.85 358.78,226.32 359.31,226.79 359.85,227.25 360.38,227.72 360.92,228.18 361.45,228.65 361.99,229.11 362.53,229.57 363.07,230.03 363.61,230.49 364.15,230.95 364.70,231.40 365.24,231.86 365.79,232.31 366.33,232.77 366.88,233.22 367.43,233.67 367.98,234.12 368.53,234.57 369.08,235.02 369.64,235.46 370.19,235.91 370.75,236.35 371.30,236.80 371.86,237.24 372.42,237.68 372.60,237.81M381.52,244.58 382.10,245.00 382.68,245.42 383.26,245.84 383.84,246.26 384.42,246.68 385.00,247.10 385.59,247.51 386.17,247.93 386.76,248.34 387.35,248.75 387.93,249.17 388.52,249.58 389.11,249.99 389.70,250.40 390.30,250.80 390.89,251.21 391.48,251.62 392.08,252.02 392.67,252.43 393.27,252.83 393.87,253.23 394.47,253.63 395.07,254.03 395.67,254.43 396.27,254.83 396.87,255.23 397.47,255.63 398.08,256.02 398.68,256.42 399.29,256.81 399.90,257.20 400.50,257.60 401.11,257.99 401.72,258.38 402.33,258.77 402.94,259.16 403.56,259.54 404.17,259.93 404.78,260.32 405.40,260.70 405.81,260.96M415.34,266.76 415.97,267.13 416.60,267.50 417.23,267.87 417.86,268.24 418.49,268.61 419.13,268.97 419.76,269.34 420.39,269.71 421.03,270.07 421.66,270.44 422.30,270.80 422.93,271.17 423.57,271.53 424.21,271.89 424.85,272.25 425.49,272.61 426.13,272.97 426.77,273.33 427.41,273.69 428.05,274.05 428.69,274.41 429.34,274.76 429.98,275.12 430.62,275.48 431.27,275.83 431.92,276.18 432.56,276.54 433.21,276.89 433.86,277.24 434.51,277.59 435.15,277.95 435.80,278.30 436.45,278.65 437.10,279.00 437.76,279.34 438.41,279.69 439.06,280.04 439.71,280.39 440.37,280.73 440.93,281.03M452.89,287.21 453.55,287.55 454.21,287.89 454.88,288.22 455.54,288.56 456.21,288.89 456.88,289.22 457.54,289.56 458.21,289.89 458.88,290.22 459.55,290.55 460.21,290.89 460.88,291.22 461.55,291.55 462.22,291.88 462.89,292.21 463.56,292.54 464.23,292.87 464.90,293.20 465.57,293.53 466.25,293.85 466.92,294.18 467.59,294.51 468.26,294.84 468.94,295.16 469.61,295.49 470.28,295.82 470.96,296.14 471.63,296.47 472.31,296.79 472.98,297.12 473.66,297.44 474.33,297.77 475.01,298.09 475.69,298.41 476.36,298.74 477.04,299.06 477.72,299.38 478.40,299.70 479.07,300.03 479.20,300.09M489.27,304.83 489.95,305.15 490.63,305.47 491.31,305.79 492.00,306.10 492.68,306.42 493.36,306.74 494.04,307.06 494.73,307.37 495.41,307.69 496.09,308.01 496.77,308.33 497.46,308.64 498.14,308.96 498.82,309.28 499.51,309.59 500.19,309.91 500.88,310.22 501.56,310.54 502.24,310.86 502.93,311.17 503.61,311.49 504.30,311.80 504.98,312.12 505.66,312.44 506.35,312.75 507.03,313.07 507.72,313.38 508.40,313.70 509.09,314.01 509.77,314.33 510.46,314.64 511.14,314.96 511.83,315.27 512.51,315.59 513.20,315.90 513.88,316.22 514.57,316.53 515.25,316.85 515.86,317.13M526.89,322.21 527.58,322.52 528.26,322.84 528.95,323.15 529.63,323.47 530.32,323.78 531.00,324.10 531.69,324.41 532.37,324.73 533.06,325.04 533.74,325.36 534.42,325.68 535.11,325.99 535.79,326.31 536.48,326.62 537.16,326.94 537.85,327.25 538.53,327.57 539.22,327.88 539.90,328.20 540.59,328.51 541.27,328.83 541.95,329.15 542.64,329.46 543.32,329.78 544.01,330.09 544.69,330.41 545.38,330.72 546.06,331.04 546.74,331.36 547.43,331.67 548.11,331.99 548.80,332.30 549.48,332.62 550.16,332.94 550.85,333.25 551.53,333.57 552.22,333.88 552.90,334.20 553.50,334.48M565.20,339.90 565.89,340.21 566.57,340.53 567.25,340.85 567.93,341.17 568.62,341.48 569.30,341.80 569.98,342.12 570.66,342.44 571.35,342.75 572.03,343.07 572.71,343.39 573.39,343.71 574.08,344.02 574.76,344.34 575.44,344.66 576.12,344.98 576.81,345.29 577.49,345.61 578.17,345.93 578.85,346.25 579.53,346.57 580.21,346.89 580.90,347.20 581.58,347.52 582.26,347.84 582.94,348.16 583.62,348.48 584.30,348.80 584.98,349.12 585.66,349.44 586.35,349.75 587.03,350.07 587.71,350.39 588.39,350.71 589.07,351.03 589.75,351.35 590.43,351.67 591.11,351.99 591.75,352.29M603.34,357.76 604.02,358.08 604.70,358.40 605.38,358.72 606.06,359.04 606.74,359.36 607.41,359.69 608.09,360.01 608.77,360.33 609.45,360.65 610.13,360.97 610.80,361.30 611.48,361.62 612.16,361.94 612.84,362.26 613.51,362.59 614.19,362.91 614.87,363.23 615.54,363.56 616.22,363.88 616.90,364.20 617.57,364.53 618.25,364.85 618.93,365.17 619.60,365.50 620.28,365.82 620.96,366.14 621.63,366.47 622.31,366.79 622.98,367.12 623.66,367.44 624.33,367.77 625.01,368.09 625.68,368.42 626.36,368.74 627.03,369.07 627.71,369.39 628.38,369.72 629.06,370.04 629.73,370.37 629.78,370.39M641.18,375.92 641.85,376.25 642.52,376.58 643.19,376.91 643.87,377.23 644.54,377.56 645.21,377.89 645.88,378.22 646.55,378.55 647.22,378.88 647.89,379.21 648.56,379.54 649.23,379.87 649.90,380.20 650.57,380.53 651.24,380.86 651.91,381.19 652.58,381.52 653.25,381.85 653.92,382.18 654.59,382.51 655.26,382.84 655.93,383.17 656.60,383.50 657.27,383.83 657.93,384.17 658.60,384.50 659.27,384.83 659.94,385.16 660.61,385.49 661.27,385.83 661.94,386.16 662.61,386.49 663.27,386.83 663.94,387.16 664.61,387.49 665.27,387.83 665.94,388.16 666.61,388.49 667.27,388.83 667.44,388.91M677.24,393.86 677.91,394.19 678.57,394.53 679.23,394.87 679.89,395.21 680.56,395.54 681.22,395.88 681.88,396.22 682.54,396.56 683.20,396.90 683.87,397.23 684.53,397.57 685.19,397.91 685.85,398.25 686.51,398.59 687.17,398.93 687.83,399.27 688.49,399.61 689.15,399.95 689.81,400.29 690.47,400.63 691.13,400.97 691.79,401.31 692.45,401.65 693.11,401.99 693.77,402.33 694.42,402.68 695.08,403.02 695.74,403.36 696.40,403.70 697.05,404.05 697.71,404.39 698.37,404.73 699.03,405.07 699.68,405.42 700.34,405.76 701.00,406.10 701.65,406.45 702.31,406.79 702.96,407.14 703.28,407.30M713.42,412.68 714.08,413.02 714.73,413.37 715.38,413.72 716.03,414.07 716.68,414.42 717.33,414.77 717.98,415.12 718.63,415.47 719.28,415.82 719.93,416.17 720.58,416.52 721.23,416.87 721.88,417.22 722.53,417.57 723.18,417.92 723.83,418.27 724.47,418.63 725.12,418.98 725.77,419.33 726.42,419.68 727.06,420.04 727.71,420.39 728.36,420.74 729.00,421.10 729.65,421.45 730.30,421.80 730.94,422.16 731.59,422.51 732.23,422.87 732.88,423.22 733.52,423.58 734.17,423.93 734.81,424.29 735.45,424.65 736.10,425.00 736.74,425.36 737.38,425.72 738.03,426.07 738.67,426.43 739.15,426.70M749.56,432.54 750.19,432.91 750.83,433.27 751.47,433.63 752.11,433.99 752.74,434.36 753.38,434.72 754.02,435.08 754.65,435.45 755.29,435.81 755.92,436.18 756.56,436.54 757.19,436.91 757.83,437.27 758.46,437.64 759.10,438.00 759.73,438.37 760.36,438.74 761.00,439.10 761.63,439.47 762.26,439.84 762.89,440.21 763.53,440.57 764.16,440.94 764.79,441.31 765.42,441.68 766.05,442.05 766.68,442.42 767.31,442.79 767.94,443.16 768.57,443.53 769.20,443.90 769.83,444.27 770.46,444.64 771.09,445.01 771.71,445.39 772.34,445.76 772.97,446.13 773.60,446.50 774.22,446.88 774.85,447.25 774.88,447.27M785.45,453.65 786.07,454.03 786.69,454.41 787.31,454.79 787.93,455.17 788.55,455.55 789.17,455.93 789.79,456.31 790.40,456.70 791.02,457.08 791.64,457.46 792.26,457.84 792.87,458.23 793.49,458.61 794.10,459.00 794.72,459.38 795.34,459.76 795.95,460.15 796.57,460.53 797.18,460.92 797.79,461.31 798.41,461.69 799.02,462.08 799.63,462.47 800.24,462.86 800.86,463.24 801.47,463.63 802.08,464.02 802.69,464.41 803.30,464.80 803.91,465.19 804.52,465.58 805.13,465.97 805.74,466.36 806.35,466.75 806.96,467.14 807.56,467.54 808.17,467.93 808.78,468.32 809.38,468.72 809.99,469.11 810.24,469.27M820.84,476.26 821.43,476.67 822.03,477.07 822.63,477.47 823.23,477.87 823.83,478.27 824.42,478.68 825.02,479.08 825.61,479.49 826.21,479.89 826.80,480.30 827.40,480.70 827.99,481.11 828.59,481.51 829.18,481.92 829.77,482.33 830.36,482.74 830.96,483.14 831.55,483.55 832.14,483.96 832.73,484.37 833.32,484.78 833.91,485.19 834.50,485.60 835.09,486.01 835.68,486.42 836.26,486.84 836.85,487.25 837.44,487.66 838.02,488.08 838.61,488.49 839.20,488.90 839.78,489.32 840.37,489.73 840.95,490.15 841.53,490.57 842.12,490.98 842.70,491.40 843.28,491.82 843.87,492.23 844.45,492.65 844.90,492.98M854.84,500.26 855.41,500.69 855.98,501.12 856.55,501.55 857.12,501.98 857.69,502.41 858.26,502.84 858.83,503.27 859.40,503.70 859.97,504.13 860.54,504.56 861.11,504.99 861.67,505.43 862.24,505.86 862.81,506.29 863.37,506.73 863.94,507.16 864.50,507.60 865.07,508.03 865.63,508.47 866.19,508.91 866.76,509.34 867.32,509.78 867.88,510.22 868.44,510.66 869.00,511.10 869.56,511.54 870.12,511.98 870.68,512.42 871.24,512.86 871.80,513.30 872.35,513.75 872.91,514.19 873.47,514.63 874.02,515.08 874.58,515.52 875.13,515.97 875.69,516.41 876.24,516.86 876.79,517.31 877.35,517.75 877.90,518.20 877.96,518.25M888.29,526.81 888.83,527.27 889.37,527.73 889.91,528.19 890.45,528.65 890.99,529.11 891.52,529.58 892.06,530.04 892.60,530.50 893.14,530.96 893.67,531.43 894.21,531.89 894.74,532.36 895.28,532.82 895.81,533.29 896.34,533.76 896.88,534.22 897.41,534.69 897.94,535.16 898.47,535.63 899.00,536.10 899.53,536.57 900.06,537.04 900.59,537.51 901.12,537.98 901.64,538.46 902.17,538.93 902.70,539.40 903.22,539.88 903.75,540.35 904.27,540.83 904.80,541.30 905.32,541.78 905.84,542.26 906.36,542.74 906.88,543.22 907.41,543.69 907.93,544.17 908.45,544.65 908.96,545.14 909.48,545.62 910.00,546.10 910.19,546.27M919.21,554.89 919.72,555.38 920.23,555.87 920.73,556.37 921.23,556.87 921.74,557.36 922.24,557.86 922.74,558.36 923.24,558.86 923.74,559.36 924.24,559.86 924.74,560.36 925.24,560.86 925.74,561.36 926.24,561.86 926.74,562.36 927.23,562.87 927.73,563.37 928.22,563.88 928.72,564.38 929.21,564.89 929.70,565.40 930.20,565.90 930.69,566.41 931.18,566.92 931.67,567.43 932.16,567.94 932.65,568.45 933.14,568.96 933.62,569.48 934.11,569.99 934.60,570.50 935.08,571.02 935.57,571.53 936.05,572.05 936.54,572.56 937.02,573.08 937.50,573.60 937.98,574.12 938.46,574.64 938.94,575.16 939.42,575.68 939.63,575.90M947.47,584.63 947.94,585.16 948.40,585.70 948.87,586.23 949.33,586.77 949.80,587.30 950.26,587.84 950.72,588.38 951.18,588.92 951.65,589.45 952.11,589.99 952.57,590.53 953.03,591.07 953.48,591.62 953.94,592.16 954.40,592.70 954.86,593.24 955.31,593.79 955.77,594.33 956.22,594.88 956.67,595.43 957.13,595.97 957.58,596.52 958.03,597.07 958.48,597.62 958.93,598.17 959.38,598.72 959.83,599.27 960.27,599.83 960.72,600.38 961.17,600.93 961.61,601.49 962.06,602.04 962.50,602.60 962.94,603.16 963.38,603.72 963.83,604.27 964.27,604.83 964.71,605.39 965.15,605.95 965.58,606.52 966.02,607.08 966.13,607.22M973.77,617.33 974.19,617.91 974.62,618.48 975.04,619.06 975.46,619.64 975.88,620.22 976.30,620.80 976.72,621.38 977.13,621.97 977.55,622.55 977.97,623.13 978.38,623.72 978.80,624.30 979.21,624.89 979.62,625.48 980.03,626.07 980.45,626.65 980.86,627.24 981.27,627.83 981.67,628.43 982.25,629.25 982.82,630.07 983.39,630.89 983.96,631.71 984.53,632.53 985.11,633.35 985.68,634.17 986.25,634.99 986.82,635.81 987.40,636.63 987.97,637.45 988.54,638.27" stroke="#7fb6b2"/>
<path d="M228.89,1.58 229.22,2.38 229.51,3.09 229.80,3.80 230.09,4.51 230.38,5.22 230.67,5.93 230.78,6.20M235.50,18.10 235.78,18.82 236.06,19.54 236.33,20.27 236.61,20.99 236.89,21.71 237.17,22.43 237.44,23.16 237.72,23.88 237.99,24.61 238.27,25.33 238.54,26.06 238.82,26.78 239.09,27.51 239.37,28.23 239.64,28.96 239.91,29.69 240.19,30.41 240.46,31.14 240.73,31.87 241.00,32.60 241.28,33.32 241.55,34.05 241.82,34.78 242.09,35.51 242.36,36.24 242.63,36.97 242.90,37.70 243.13,38.31M247.60,50.47 247.74,50.86 248.01,51.59 248.28,52.32 248.55,53.05 248.81,53.79 249.08,54.52 249.32,55.17M253.73,67.18 253.92,67.68 254.19,68.41 254.46,69.14 254.73,69.87 255.00,70.60 255.27,71.33 255.54,72.06 255.81,72.79 256.08,73.52 256.35,74.25 256.63,74.97 256.90,75.70 257.17,76.43 257.44,77.16 257.72,77.88 257.99,78.61 258.26,79.34 258.54,80.06 258.81,80.79 259.09,81.51 259.36,82.24 259.64,82.96 259.92,83.68 260.19,84.41 260.47,85.13 260.75,85.85 261.02,86.58 261.30,87.30 261.34,87.40M265.89,98.93 266.11,99.49 266.40,100.20 266.69,100.91 266.98,101.62 267.27,102.33 267.56,103.04 267.77,103.57M272.76,115.35 272.91,115.69 273.22,116.38 273.52,117.08 273.83,117.77 274.14,118.46 274.44,119.16 274.75,119.85 275.06,120.54 275.38,121.22 275.69,121.91 276.00,122.60 276.31,123.29 276.63,123.97 276.94,124.66 277.26,125.34 277.58,126.02 277.90,126.70 278.22,127.38 278.54,128.06 278.86,128.74 279.18,129.42 279.51,130.09 279.83,130.77 280.16,131.44 280.49,132.11 280.81,132.79 281.14,133.46 281.47,134.13 281.80,134.80 281.87,134.94M287.83,146.38 287.97,146.63 288.32,147.28 288.68,147.92 289.04,148.56 289.40,149.20 289.76,149.84 290.12,150.48 290.27,150.75M296.84,161.73 296.85,161.75 297.24,162.36 297.63,162.97 298.02,163.58 298.42,164.18 298.81,164.79 299.21,165.39 299.61,165.99 300.00,166.60 300.41,167.19 300.81,167.79 301.21,168.39 301.62,168.98 302.03,169.57 302.43,170.17 302.85,170.75 303.26,171.34 303.67,171.93 304.09,172.51 304.50,173.10 304.92,173.68 305.35,174.25 305.77,174.83 306.19,175.41 306.62,175.98 307.05,176.55 307.48,177.12 307.91,177.69 308.34,178.26 308.78,178.82 309.21,179.39 309.23,179.41M317.01,188.77 317.40,189.20 317.87,189.73 318.35,190.25 318.82,190.78 319.30,191.30 319.78,191.82 320.27,192.33 320.39,192.46M329.51,201.44 329.85,201.75 330.38,202.22 330.91,202.69 331.44,203.16 331.97,203.63 332.51,204.09 333.04,204.56 333.58,205.02 334.13,205.47 334.67,205.93 335.22,206.38 335.77,206.83 336.32,207.28 336.87,207.73 337.43,208.17 337.99,208.61 338.55,209.05 339.11,209.49 339.68,209.92 340.25,210.35 340.82,210.78 341.39,211.21 341.97,211.63 342.54,212.06 343.12,212.48 343.71,212.89 344.29,213.31 344.88,213.72 345.47,214.13 346.06,214.54 346.46,214.80M356.80,221.21 357.18,221.42 357.82,221.78 358.47,222.13 359.12,222.48 359.77,222.83 360.42,223.18 361.08,223.52 361.20,223.59M372.77,229.05 373.32,229.28 374.02,229.58 374.72,229.88 375.43,230.17 376.14,230.46 376.85,230.75 377.56,231.04 378.28,231.32 379.00,231.60 379.72,231.88 380.44,232.16 381.16,232.44 381.89,232.71 382.61,232.99 383.34,233.26 384.07,233.53 384.81,233.79 385.54,234.06 386.28,234.32 387.02,234.58 387.76,234.84 388.50,235.10 389.24,235.36 389.99,235.61 390.73,235.87 391.48,236.12 392.23,236.37 392.99,236.61 392.99,236.62M405.25,240.39 405.99,240.61 406.77,240.83 407.55,241.05 408.32,241.28 409.10,241.50 409.89,241.71 410.06,241.76M422.42,245.06 422.52,245.08 423.31,245.29 424.11,245.49 424.91,245.69 425.70,245.90 426.50,246.10 427.30,246.30 428.10,246.50 428.90,246.70 429.70,246.90 430.50,247.10 431.31,247.29 432.11,247.49 432.91,247.69 433.71,247.89 434.52,248.08 435.32,248.28 436.13,248.47 436.93,248.67 437.73,248.87 438.54,249.06 439.34,249.26 440.15,249.45 440.95,249.65 441.76,249.84 442.57,250.03 443.37,250.23 443.39,250.23M454.05,252.80 454.66,252.94 455.46,253.14 456.27,253.33 457.08,253.52 457.88,253.72 458.69,253.91 458.91,253.97M471.35,256.99 471.56,257.04 472.36,257.24 473.17,257.43 473.97,257.63 474.77,257.83 475.57,258.03 476.37,258.23 477.17,258.43 477.97,258.63 478.77,258.83 479.57,259.03 480.37,259.23 481.17,259.43 481.97,259.63 482.77,259.83 483.56,260.04 484.36,260.24 485.16,260.44 485.95,260.65 486.75,260.85 487.54,261.06 488.34,261.26 489.13,261.47 489.93,261.67 490.72,261.88 491.51,262.09 492.29,262.29M503.69,265.37 504.12,265.48 504.90,265.70 505.68,265.92 506.46,266.14 507.24,266.36 508.02,266.58 508.51,266.71M520.80,270.26 521.22,270.38 521.99,270.61 522.76,270.84 523.53,271.07 524.30,271.30 525.07,271.53 525.83,271.77 526.60,272.00 527.37,272.23 528.14,272.46 528.90,272.70 529.67,272.93 530.43,273.17 531.20,273.40 531.96,273.64 532.73,273.87 533.49,274.11 534.25,274.35 535.02,274.58 535.78,274.82 536.54,275.06 537.30,275.30 538.06,275.54 538.82,275.78 539.58,276.02 540.34,276.26 541.10,276.50 541.45,276.62M553.24,280.47 553.91,280.69 554.66,280.94 555.41,281.19 556.16,281.44 556.90,281.70 557.65,281.95 557.98,282.06M570.08,286.24 570.28,286.32 571.02,286.58 571.76,286.84 572.50,287.10 573.24,287.36 573.97,287.63 574.71,287.89 575.45,288.15 576.18,288.42 576.92,288.68 577.65,288.95 578.39,289.21 579.12,289.48 579.85,289.75 580.59,290.01 581.32,290.28 582.05,290.55 582.78,290.82 583.51,291.09 584.24,291.36 584.97,291.63 585.70,291.90 586.43,292.17 587.16,292.44 587.89,292.71 588.62,292.98 589.35,293.25 590.07,293.53 590.37,293.64M601.48,297.89 601.65,297.95 602.37,298.23 603.09,298.51 603.81,298.79 604.52,299.08 605.24,299.36 605.96,299.64 606.13,299.71M618.01,304.47 618.10,304.50 618.81,304.79 619.52,305.08 620.23,305.37 620.94,305.66 621.65,305.95 622.35,306.25 623.06,306.54 623.77,306.83 624.48,307.12 625.18,307.42 625.89,307.71 626.60,308.00 627.30,308.30 628.01,308.59 628.71,308.89 629.42,309.18 630.12,309.48 630.82,309.78 631.53,310.07 632.23,310.37 632.93,310.67 633.64,310.96 634.34,311.26 635.04,311.56 635.74,311.86 636.44,312.16 637.14,312.46 637.84,312.76 637.94,312.80M650.43,318.25 651.07,318.53 651.76,318.84 652.45,319.15 653.15,319.45 653.84,319.76 654.53,320.07 655.00,320.28M666.66,325.57 666.91,325.69 667.60,326.00 668.28,326.32 668.97,326.63 669.65,326.95 670.34,327.26 671.02,327.58 671.70,327.90 672.38,328.22 673.07,328.53 673.75,328.85 674.43,329.17 675.11,329.49 675.79,329.81 676.47,330.13 677.15,330.45 677.83,330.77 678.51,331.09 679.19,331.41 679.87,331.73 680.55,332.05 681.23,332.37 681.91,332.69 682.58,333.02 683.26,333.34 683.94,333.66 684.62,333.98 685.29,334.31 685.97,334.63 686.21,334.75M697.35,340.15 697.42,340.18 698.09,340.51 698.76,340.84 699.43,341.17 700.10,341.50 700.77,341.83 701.44,342.16 701.84,342.35M713.29,348.07 713.45,348.15 714.11,348.49 714.78,348.82 715.44,349.16 716.10,349.50 716.77,349.83 717.43,350.17 718.09,350.51 718.75,350.85 719.42,351.18 720.08,351.52 720.74,351.86 721.40,352.20 722.06,352.54 722.72,352.88 723.39,353.21 724.05,353.55 724.71,353.89 725.37,354.23 726.03,354.57 726.69,354.91 727.35,355.25 728.00,355.60 728.66,355.94 729.32,356.28 729.98,356.62 730.64,356.96 731.30,357.30 731.95,357.65 732.50,357.93M743.60,363.76 743.75,363.85 744.41,364.19 745.06,364.54 745.71,364.89 746.37,365.23 747.02,365.58 747.67,365.93 748.01,366.11M759.28,372.18 759.38,372.22 760.02,372.58 760.67,372.93 761.32,373.28 761.97,373.63 762.61,373.99 763.26,374.34 763.91,374.69 764.55,375.05 765.20,375.40 765.85,375.75 766.49,376.11 767.14,376.46 767.78,376.82 768.43,377.17 769.07,377.53 769.72,377.88 770.36,378.24 771.01,378.59 771.65,378.95 772.29,379.31 772.94,379.66 773.58,380.02 774.22,380.38 774.87,380.73 775.51,381.09 776.15,381.45 776.79,381.81 777.43,382.17 778.07,382.53 778.20,382.60M788.71,388.53 788.94,388.66 789.58,389.02 790.21,389.39 790.85,389.75 791.49,390.11 792.12,390.48 792.76,390.84 793.05,391.01M804.12,397.43 804.15,397.45 804.78,397.82 805.41,398.19 806.04,398.56 806.67,398.93 807.30,399.30 807.93,399.67 808.56,400.04 809.19,400.41 809.82,400.78 810.45,401.15 811.07,401.53 811.70,401.90 812.33,402.27 812.95,402.65 813.58,403.02 814.21,403.39 814.83,403.77 815.46,404.14 816.08,404.52 816.71,404.89 817.33,405.27 817.96,405.64 818.58,406.02 819.21,406.39 819.83,406.77 820.45,407.15 821.08,407.52 821.70,407.90 822.32,408.28 822.68,408.49M834.40,415.70 834.71,415.89 835.33,416.27 835.94,416.66 836.56,417.04 837.17,417.43 837.79,417.81 838.40,418.20 838.64,418.34M849.45,425.21 850.02,425.58 850.63,425.97 851.24,426.36 851.85,426.75 852.46,427.14 853.06,427.54 853.67,427.93 854.28,428.32 854.88,428.72 855.49,429.11 856.09,429.51 856.70,429.90 857.30,430.30 857.91,430.69 858.51,431.09 859.11,431.49 859.72,431.88 860.32,432.28 860.92,432.68 861.53,433.07 862.13,433.47 862.73,433.87 863.33,434.27 863.93,434.67 864.53,435.07 865.13,435.47 865.73,435.87 866.33,436.27 866.93,436.67 867.51,437.05M876.99,443.48 877.07,443.53 877.66,443.94 878.26,444.34 878.85,444.75 879.44,445.16 880.03,445.57 880.62,445.98 881.11,446.31M891.59,453.66 891.79,453.81 892.37,454.23 892.96,454.64 893.54,455.06 894.12,455.48 894.71,455.89 895.29,456.31 895.87,456.73 896.45,457.15 897.03,457.57 897.61,457.99 898.20,458.40 898.78,458.82 899.35,459.25 899.93,459.67 900.51,460.09 901.09,460.51 901.67,460.93 902.25,461.35 902.82,461.78 903.40,462.20 903.98,462.62 904.55,463.05 905.13,463.47 905.71,463.89 906.28,464.32 906.86,464.74 907.43,465.17 908.00,465.60 908.58,466.02 909.05,466.38M918.41,473.44 918.83,473.77 919.40,474.20 919.96,474.64 920.53,475.07 921.09,475.51 921.66,475.94 922.22,476.38 922.37,476.49M932.44,484.40 932.86,484.74 933.42,485.18 933.97,485.63 934.53,486.07 935.08,486.52 935.64,486.96 936.19,487.41 936.74,487.86 937.30,488.30 937.85,488.75 938.40,489.20 938.95,489.65 939.50,490.10 940.05,490.55 940.60,491.00 941.15,491.45 941.70,491.90 942.25,492.35 942.80,492.80 943.35,493.25 943.90,493.70 944.44,494.16 944.99,494.61 945.54,495.06 946.08,495.52 946.63,495.97 947.17,496.43 947.72,496.88 948.26,497.34 948.81,497.79 949.15,498.08M958.88,506.39 959.06,506.54 959.59,507.01 960.13,507.47 960.66,507.94 961.19,508.41 961.73,508.87 962.26,509.34 962.65,509.68M972.19,518.21 972.29,518.31 972.82,518.78 973.34,519.26 973.86,519.74 974.39,520.21 974.91,520.69 975.43,521.17 975.95,521.65 976.47,522.13 976.99,522.61 977.51,523.09 978.03,523.57 978.55,524.05 979.06,524.54 979.58,525.02 980.10,525.50 980.62,525.98 981.35,526.67 982.08,527.35 982.81,528.03 983.54,528.71 984.27,529.39 985.01,530.07 985.74,530.76 986.47,531.44 987.20,532.12 987.93,532.80 988.03,532.89" stroke="#3c722e"/>
<path d="M234.25,1.71 234.51,2.39 234.79,3.11 235.06,3.84 235.34,4.56 235.61,5.29 235.89,6.01 236.03,6.38M240.54,18.36 240.81,19.09 241.08,19.82 241.36,20.54 241.63,21.27 241.90,22.00 242.17,22.73 242.44,23.46 242.72,24.18 242.99,24.91 243.26,25.64 243.53,26.37 243.80,27.10 244.08,27.82 244.35,28.55 244.62,29.28 244.89,30.01 245.16,30.74 245.44,31.46 245.71,32.19 245.98,32.92 246.25,33.65 246.52,34.38 246.80,35.10 247.07,35.83 247.34,36.56 247.61,37.29 247.89,38.01 248.16,38.74 248.43,39.47 248.71,40.19 248.98,40.92 249.25,41.65 249.53,42.37 249.80,43.10 250.07,43.83 250.35,44.55 250.62,45.28 250.82,45.80M255.14,57.09 255.33,57.57 255.61,58.29 255.89,59.01 256.17,59.73 256.45,60.45 256.73,61.17 256.95,61.75M261.70,73.64 261.86,74.04 262.15,74.75 262.44,75.46 262.73,76.17 263.02,76.88 263.31,77.59 263.61,78.29 263.90,79.00 264.19,79.71 264.49,80.41 264.78,81.12 265.08,81.82 265.38,82.52 265.67,83.23 265.97,83.93 266.27,84.63 266.57,85.33 266.87,86.03 267.17,86.73 267.47,87.43 267.77,88.13 268.07,88.83 268.37,89.53 268.68,90.22 268.98,90.92 269.29,91.61 269.59,92.31 269.90,93.00 270.21,93.69 270.52,94.38 270.83,95.07 271.14,95.76 271.45,96.45 271.76,97.14 272.07,97.83 272.38,98.52 272.70,99.20 273.01,99.89 273.31,100.53M278.44,111.28 278.50,111.40 278.83,112.07 279.16,112.74 279.49,113.41 279.83,114.07 280.16,114.74 280.50,115.40 280.68,115.75M286.68,127.05 286.74,127.16 287.09,127.81 287.45,128.45 287.81,129.09 288.17,129.73 288.54,130.36 288.90,131.00 289.26,131.64 289.63,132.27 290.00,132.90 290.36,133.54 290.73,134.17 291.11,134.79 291.48,135.42 291.85,136.05 292.23,136.67 292.60,137.30 292.98,137.92 293.36,138.54 293.74,139.16 294.12,139.78 294.50,140.40 294.89,141.01 295.27,141.63 295.66,142.24 296.05,142.85 296.44,143.46 296.83,144.07 297.22,144.68 297.61,145.29 298.01,145.89 298.40,146.50 298.80,147.10 299.20,147.70 299.60,148.30 300.01,148.89 300.41,149.49 300.81,150.09 301.22,150.68 301.63,151.27 302.04,151.86 302.10,151.95M309.77,162.33 310.12,162.78 310.56,163.34 311.01,163.89 311.45,164.45 311.90,165.00 312.35,165.55 312.80,166.10 312.90,166.23M321.31,175.87 321.66,176.24 322.14,176.76 322.62,177.28 323.11,177.79 323.60,178.30 324.08,178.82 324.57,179.33 325.07,179.83 325.56,180.34 326.05,180.85 326.55,181.35 327.05,181.85 327.55,182.35 328.05,182.85 328.55,183.35 329.05,183.85 329.56,184.34 330.06,184.84 330.57,185.33 331.08,185.82 331.59,186.31 332.10,186.80 332.62,187.28 333.13,187.77 333.65,188.25 334.17,188.73 334.69,189.21 335.21,189.69 335.73,190.17 336.25,190.65 336.78,191.12 337.30,191.60 337.83,192.07 338.36,192.54 338.89,193.01 339.42,193.48 339.96,193.94 340.49,194.41 341.03,194.87 341.56,195.34 342.10,195.80 342.47,196.11M351.35,203.36 351.46,203.44 352.02,203.88 352.58,204.32 353.15,204.75 353.71,205.19 354.28,205.62 354.85,206.05 355.31,206.40M365.68,213.91 365.86,214.04 366.45,214.45 367.05,214.85 367.64,215.26 368.23,215.67 368.83,216.07 369.43,216.47 370.02,216.88 370.62,217.28 371.22,217.68 371.82,218.08 372.42,218.48 373.03,218.87 373.63,219.27 374.24,219.66 374.84,220.06 375.45,220.45 376.06,220.84 376.67,221.23 377.28,221.62 377.89,222.01 378.50,222.40 379.11,222.79 379.73,223.17 380.34,223.56 380.96,223.94 381.57,224.33 382.19,224.71 382.81,225.09 383.43,225.47 384.05,225.85 384.67,226.23 385.30,226.60 385.92,226.98 386.54,227.36 387.17,227.73 387.79,228.11 388.42,228.48 389.05,228.85 389.68,229.22 390.31,229.59 390.39,229.64M400.68,235.49 401.15,235.75 401.79,236.11 402.44,236.46 403.08,236.82 403.73,237.17 404.38,237.52 405.03,237.87 405.06,237.89M416.39,243.85 416.83,244.07 417.49,244.41 418.15,244.75 418.82,245.08 419.48,245.42 420.15,245.75 420.81,246.09 421.48,246.42 422.14,246.76 422.81,247.09 423.48,247.42 424.15,247.75 424.82,248.08 425.49,248.41 426.16,248.74 426.83,249.07 427.50,249.40 428.17,249.73 428.84,250.06 429.52,250.38 430.19,250.71 430.86,251.04 431.54,251.36 432.21,251.69 432.89,252.01 433.57,252.33 434.24,252.66 434.92,252.98 435.60,253.30 436.28,253.62 436.96,253.94 437.64,254.26 438.32,254.58 439.00,254.90 439.68,255.22 440.36,255.54 441.04,255.86 441.73,256.17 442.41,256.49 442.75,256.65M454.19,261.84 454.79,262.11 455.48,262.42 456.17,262.73 456.87,263.03 457.56,263.34 458.25,263.65 458.76,263.87M470.50,268.97 470.80,269.10 471.50,269.40 472.21,269.69 472.91,269.99 473.61,270.29 474.31,270.59 475.01,270.89 475.71,271.19 476.42,271.48 477.12,271.78 477.82,272.08 478.53,272.37 479.23,272.67 479.93,272.97 480.64,273.26 481.34,273.56 482.05,273.85 482.75,274.15 483.46,274.44 484.16,274.74 484.87,275.03 485.58,275.32 486.28,275.62 486.99,275.91 487.70,276.20 488.40,276.50 489.11,276.79 489.82,277.08 490.53,277.37 491.23,277.67 491.94,277.96 492.65,278.25 493.36,278.54 494.07,278.83 494.78,279.12 495.48,279.42 496.19,279.71 496.90,280.00 497.54,280.26M508.84,284.85 508.99,284.91 509.70,285.20 510.41,285.49 511.12,285.78 511.83,286.07 512.55,286.35 513.26,286.64 513.47,286.73M525.34,291.51 525.37,291.53 526.09,291.81 526.80,292.10 527.51,292.39 528.23,292.67 528.94,292.96 529.65,293.25 530.37,293.53 531.08,293.82 531.79,294.11 532.50,294.40 533.22,294.68 533.93,294.97 534.64,295.26 535.35,295.55 536.07,295.83 536.78,296.12 537.49,296.41 538.20,296.70 538.92,296.98 539.63,297.27 540.34,297.56 541.05,297.85 541.77,298.13 542.48,298.42 543.19,298.71 543.90,299.00 544.61,299.29 545.32,299.58 546.04,299.86 546.75,300.15 547.46,300.44 548.17,300.73 548.88,301.02 549.59,301.31 550.30,301.60 551.01,301.89 551.72,302.18 552.43,302.47 552.51,302.50M563.92,307.19 564.48,307.42 565.19,307.71 565.89,308.01 566.60,308.30 567.31,308.59 568.01,308.89 568.54,309.11M580.33,314.08 580.67,314.23 581.37,314.53 582.07,314.83 582.77,315.13 583.47,315.43 584.17,315.73 584.87,316.03 585.57,316.33 586.27,316.63 586.96,316.94 587.66,317.24 588.36,317.54 589.05,317.85 589.75,318.15 590.45,318.45 591.14,318.76 591.84,319.06 592.53,319.37 593.23,319.67 593.92,319.98 594.62,320.28 595.31,320.59 596.00,320.90 596.69,321.21 597.39,321.51 598.08,321.82 598.77,322.13 599.46,322.44 600.15,322.75 600.84,323.06 601.53,323.37 602.22,323.68 602.91,323.99 603.59,324.31 604.28,324.62 604.97,324.93 605.66,325.24 606.34,325.56 607.03,325.87 607.14,325.92M618.25,331.10 618.62,331.28 619.30,331.60 619.97,331.93 620.65,332.25 621.33,332.57 622.01,332.89 622.68,333.22 622.76,333.26M634.27,338.85 634.80,339.10 635.47,339.43 636.14,339.76 636.81,340.09 637.48,340.42 638.15,340.75 638.82,341.08 639.48,341.42 640.15,341.75 640.82,342.08 641.49,342.41 642.16,342.74 642.82,343.08 643.49,343.41 644.16,343.74 644.83,344.07 645.49,344.41 646.16,344.74 646.83,345.07 647.49,345.41 648.16,345.74 648.82,346.08 649.49,346.41 650.16,346.74 650.82,347.08 651.49,347.41 652.15,347.75 652.82,348.08 653.48,348.42 654.15,348.75 654.81,349.09 655.47,349.43 656.14,349.76 656.80,350.10 657.47,350.43 658.13,350.77 658.79,351.11 659.46,351.44 660.12,351.78 660.48,351.96M670.96,357.29 671.40,357.50 672.06,357.84 672.72,358.18 673.38,358.52 674.05,358.85 674.71,359.19 675.37,359.53 675.42,359.55M686.83,365.36 687.30,365.60 687.96,365.94 688.62,366.28 689.28,366.62 689.94,366.96 690.61,367.29 691.27,367.63 691.93,367.97 692.59,368.31 693.25,368.65 693.91,368.99 694.57,369.33 695.23,369.67 695.89,370.01 696.55,370.35 697.22,370.68 697.88,371.02 698.54,371.36 699.19,371.71 699.85,372.05 700.51,372.39 701.17,372.73 701.83,373.07 702.49,373.41 703.15,373.75 703.81,374.09 704.47,374.43 705.13,374.77 705.78,375.12 706.44,375.46 707.10,375.80 707.76,376.14 708.41,376.49 709.07,376.83 709.73,377.17 710.38,377.52 711.04,377.86 711.70,378.20 712.35,378.55 712.86,378.81M723.28,384.35 723.46,384.44 724.11,384.79 724.76,385.14 725.41,385.49 726.06,385.84 726.71,386.19 727.36,386.54 727.69,386.72M738.91,392.87 738.98,392.92 739.63,393.27 740.27,393.63 740.91,393.99 741.55,394.35 742.20,394.70 742.84,395.06 743.48,395.42 744.12,395.78 744.76,396.14 745.40,396.50 746.04,396.86 746.68,397.22 747.32,397.58 747.96,397.94 748.60,398.30 749.24,398.66 749.87,399.03 750.51,399.39 751.15,399.75 751.79,400.11 752.42,400.48 753.06,400.84 753.70,401.20 754.33,401.57 754.97,401.93 755.60,402.30 756.24,402.66 756.87,403.03 757.51,403.39 758.14,403.76 758.78,404.12 759.41,404.49 760.04,404.86 760.68,405.22 761.31,405.59 761.94,405.96 762.57,406.33 763.21,406.69 763.84,407.06 764.37,407.37M774.90,413.57 775.17,413.73 775.79,414.11 776.42,414.48 777.04,414.86 777.67,415.23 778.30,415.60 778.92,415.98 779.19,416.14M790.14,422.76 790.76,423.14 791.38,423.52 792.00,423.90 792.62,424.28 793.24,424.66 793.86,425.04 794.48,425.42 795.10,425.80 795.72,426.18 796.34,426.56 796.95,426.95 797.57,427.33 798.19,427.71 798.81,428.09 799.43,428.47 800.04,428.86 800.66,429.24 801.28,429.62 801.89,430.01 802.51,430.39 803.13,430.77 803.74,431.16 804.36,431.54 804.97,431.93 805.59,432.31 806.20,432.70 806.82,433.08 807.43,433.47 808.05,433.85 808.66,434.24 809.28,434.62 809.89,435.01 810.50,435.40 811.12,435.78 811.73,436.17 812.34,436.56 812.96,436.94 813.57,437.33 814.18,437.72 814.79,438.11 815.01,438.25M825.45,444.91 825.78,445.12 826.39,445.51 827.00,445.90 827.61,446.29 828.21,446.69 828.82,447.08 829.43,447.47 829.66,447.62M840.39,454.60 840.94,454.96 841.55,455.35 842.15,455.75 842.75,456.15 843.36,456.54 843.96,456.94 844.56,457.34 845.17,457.73 845.77,458.13 846.37,458.53 846.97,458.93 847.58,459.32 848.18,459.72 848.78,460.12 849.38,460.52 849.98,460.92 850.58,461.32 851.19,461.71 851.79,462.11 852.39,462.51 852.99,462.91 853.59,463.31 854.19,463.71 854.78,464.12 855.38,464.52 855.98,464.92 856.58,465.32 857.18,465.72 857.78,466.12 858.37,466.53 858.97,466.93 859.57,467.33 860.16,467.74 860.76,468.14 861.36,468.54 861.95,468.95 862.55,469.35 863.14,469.76 863.74,470.16 864.33,470.57 864.76,470.86M874.28,477.46 874.37,477.53 874.96,477.94 875.55,478.35 876.13,478.77 876.72,479.18 877.31,479.59 877.89,480.01 878.36,480.34M888.72,487.86 888.91,487.99 889.48,488.42 890.06,488.84 890.63,489.27 891.20,489.70 891.78,490.12 892.35,490.55 892.92,490.98 893.49,491.41 894.06,491.84 894.63,492.27 895.20,492.70 895.77,493.13 896.33,493.57 896.90,494.00 897.47,494.43 898.03,494.87 898.60,495.30 899.16,495.74 899.73,496.17 900.29,496.61 900.85,497.05 901.42,497.48 901.98,497.92 902.54,498.36 903.10,498.80 903.66,499.24 904.22,499.68 904.77,500.13 905.33,500.57 905.89,501.01 906.44,501.46 907.00,501.90 907.55,502.35 908.11,502.79 908.66,503.24 909.21,503.69 909.76,504.14 910.32,504.58 910.87,505.03 911.41,505.49 911.85,505.84M920.99,513.57 921.17,513.73 921.71,514.19 922.24,514.66 922.78,515.12 923.31,515.59 923.84,516.06 924.37,516.53 924.75,516.87M934.18,525.53 934.28,525.62 934.79,526.11 935.30,526.60 935.81,527.09 936.32,527.58 936.83,528.07 937.34,528.56 937.85,529.05 938.35,529.55 938.86,530.04 939.36,530.54 939.87,531.03 940.37,531.53 940.87,532.03 941.37,532.53 941.87,533.03 942.37,533.53 942.87,534.03 943.37,534.53 943.86,535.04 944.36,535.54 944.85,536.05 945.35,536.55 945.84,537.06 946.34,537.56 946.83,538.07 947.32,538.58 947.81,539.09 948.30,539.60 948.79,540.11 949.28,540.62 949.77,541.13 950.26,541.64 950.74,542.16 951.23,542.67 951.71,543.19 952.20,543.70 952.68,544.22 953.17,544.73 953.65,545.25 954.13,545.77 954.62,546.28 954.73,546.41M962.58,554.99 962.74,555.16 963.21,555.69 963.68,556.22 964.16,556.74 964.63,557.27 965.10,557.80 965.57,558.33 965.91,558.71M974.55,568.16 974.65,568.25 975.13,568.77 975.63,569.27 976.12,569.78 976.61,570.29 977.11,570.79 977.61,571.29 978.11,571.79 978.61,572.29 979.12,572.78 979.63,573.27 980.14,573.76 980.65,574.25 981.17,574.73 981.89,575.42 982.61,576.12 983.33,576.81 984.05,577.50 984.77,578.20 985.49,578.89 986.21,579.58 986.93,580.28 987.66,580.97 988.38,581.66 989.10,582.36 989.82,583.05" stroke="#3a5b9e"/>
</g>
<path d="M247.51,655.2V624.2M247.51,1.4V31.4M352.62,655.2V624.2M352.62,1.4V31.4M457.74,655.2V624.2M457.74,1.4V31.4M562.85,655.2V624.2M562.85,1.4V31.4M667.96,655.2V624.2M667.96,1.4V31.4M773.07,655.2V624.2M773.07,1.4V31.4M878.19,655.2V624.2M878.19,1.4V31.4M142.4,487.89H164.0M983.3,487.89H961.6999999999999M142.4,390.02H164.0M983.3,390.02H961.6999999999999M142.4,320.58H164.0M983.3,320.58H961.6999999999999M142.4,266.71H164.0M983.3,266.71H961.6999999999999M142.4,222.70H164.0M983.3,222.70H961.6999999999999M142.4,185.49H164.0M983.3,185.49H961.6999999999999M142.4,153.26H164.0M983.3,153.26H961.6999999999999M142.4,99.40H172.9M983.3,99.40H952.8" stroke="#000" stroke-width="2.8" fill="none"/>
<rect x="142.4" y="1.4" width="840.9" height="653.8000000000001" fill="none" stroke="#000" stroke-width="2.8"/>
<path d="M0.2655,0H0.3736V-0.692H0.285C0.27,-0.62 0.2,-0.575 0.1,-0.5655V-0.494H0.2655Z" transform="translate(104.65,712.30) scale(43.5)" fill="#000"/><text x="128.84" y="713.00" font-size="43.5">0</text><text x="153.03" y="686.30" font-size="30.5">-3</text>
<path d="M0.2655,0H0.3736V-0.692H0.285C0.27,-0.62 0.2,-0.575 0.1,-0.5655V-0.494H0.2655Z" transform="translate(209.76,712.30) scale(43.5)" fill="#000"/><text x="233.95" y="713.00" font-size="43.5">0</text><text x="258.15" y="686.30" font-size="30.5">-2</text>
<path d="M0.2655,0H0.3736V-0.692H0.285C0.27,-0.62 0.2,-0.575 0.1,-0.5655V-0.494H0.2655Z" transform="translate(317.57,712.30) scale(43.5)" fill="#000"/><text x="341.77" y="713.00" font-size="43.5">0</text><text x="365.96" y="686.30" font-size="30.5">-</text><path d="M0.2655,0H0.3736V-0.692H0.285C0.27,-0.62 0.2,-0.575 0.1,-0.5655V-0.494H0.2655Z" transform="translate(376.11,686.30) scale(30.5)" fill="#000"/>
<path d="M0.2655,0H0.3736V-0.692H0.285C0.27,-0.62 0.2,-0.575 0.1,-0.5655V-0.494H0.2655Z" transform="translate(425.06,712.30) scale(43.5)" fill="#000"/><text x="449.26" y="713.00" font-size="43.5">0</text><text x="473.45" y="686.30" font-size="30.5">0</text>
<path d="M0.2655,0H0.3736V-0.692H0.285C0.27,-0.62 0.2,-0.575 0.1,-0.5655V-0.494H0.2655Z" transform="translate(532.88,712.30) scale(43.5)" fill="#000"/><text x="557.07" y="713.00" font-size="43.5">0</text><path d="M0.2655,0H0.3736V-0.692H0.285C0.27,-0.62 0.2,-0.575 0.1,-0.5655V-0.494H0.2655Z" transform="translate(581.26,686.30) scale(30.5)" fill="#000"/>
<path d="M0.2655,0H0.3736V-0.692H0.285C0.27,-0.62 0.2,-0.575 0.1,-0.5655V-0.494H0.2655Z" transform="translate(635.29,712.30) scale(43.5)" fill="#000"/><text x="659.48" y="713.00" font-size="43.5">0</text><text x="683.67" y="686.30" font-size="30.5">2</text>
<path d="M0.2655,0H0.3736V-0.692H0.285C0.27,-0.62 0.2,-0.575 0.1,-0.5655V-0.494H0.2655Z" transform="translate(740.40,712.30) scale(43.5)" fill="#000"/><text x="764.59" y="713.00" font-size="43.5">0</text><text x="788.79" y="686.30" font-size="30.5">3</text>
<path d="M0.2655,0H0.3736V-0.692H0.285C0.27,-0.62 0.2,-0.575 0.1,-0.5655V-0.494H0.2655Z" transform="translate(845.51,712.30) scale(43.5)" fill="#000"/><text x="869.71" y="713.00" font-size="43.5">0</text><text x="893.90" y="686.30" font-size="30.5">4</text>
<path d="M0.2655,0H0.3736V-0.692H0.285C0.27,-0.62 0.2,-0.575 0.1,-0.5655V-0.494H0.2655Z" transform="translate(950.63,712.30) scale(43.5)" fill="#000"/><text x="974.82" y="713.00" font-size="43.5">0</text><text x="999.01" y="686.30" font-size="30.5">5</text>
<path d="M0.2655,0H0.3736V-0.692H0.285C0.27,-0.62 0.2,-0.575 0.1,-0.5655V-0.494H0.2655Z" transform="translate(68.95,678.10) scale(43.5)" fill="#000"/><text x="93.14" y="679.00" font-size="43.5">0</text><text x="117.34" y="652.30" font-size="30.5">2</text>
<path d="M0.2655,0H0.3736V-0.692H0.285C0.27,-0.62 0.2,-0.575 0.1,-0.5655V-0.494H0.2655Z" transform="translate(68.95,122.30) scale(43.5)" fill="#000"/><text x="93.14" y="123.00" font-size="43.5">0</text><text x="117.34" y="96.50" font-size="30.5">3</text>
<g transform="translate(0,768) scale(1,1.05)"><text x="423" y="0" font-size="45.8">Energy (eV/u)</text></g>
<g transform="translate(51,586) rotate(-90) scale(1,1.05)"><text y="0" font-size="46">Cross Section (</text><path d="M0.2655,0H0.3736V-0.692H0.285C0.27,-0.62 0.2,-0.575 0.1,-0.5655V-0.494H0.2655Z" transform="translate(313.50,0.00) scale(46)" fill="#000"/><text x="339" y="0" font-size="46">0</text><text x="364" y="-25.7" font-size="31">-</text><path d="M0.2655,0H0.3736V-0.692H0.285C0.27,-0.62 0.2,-0.575 0.1,-0.5655V-0.494H0.2655Z" transform="translate(375.00,-25.70) scale(31)" fill="#000"/><text x="392" y="-25.7" font-size="31">6</text><text x="410.3" y="0" font-size="46">&#160;cm</text><text x="484.3" y="-25.7" font-size="31">2</text><text x="504.1" y="0" font-size="46">)</text></g>
<rect x="806.5" y="41.5" width="119.9" height="184.9" fill="#fff" stroke="#000" stroke-width="2.8"/>
<path d="M818,58.4H865.1" stroke="#a51118" stroke-width="4.6" fill="none"/>
<text x="878.2" y="66.6" font-size="21.5">H</text>
<path d="M818,83.4H865.1" stroke="#c36a1c" stroke-width="4.6" stroke-dasharray="5 12.6" fill="none"/>
<text x="878.2" y="91.0" font-size="21.5">He</text>
<path d="M818,112.8H865.1" stroke="#4e2176" stroke-width="4.6" stroke-dasharray="21.8 12.6" fill="none"/>
<text x="878.2" y="116.0" font-size="21.5">H<tspan font-size="14.75" dy="8.4">2</tspan></text>
<path d="M818,146.5H865.1" stroke="#7fb6b2" stroke-width="4.6" stroke-dasharray="29.3 12.8" fill="none"/>
<text x="878.2" y="149.6" font-size="21.5">N<tspan font-size="14.75" dy="8.4">2</tspan></text>
<path d="M818,180.1H865.1" stroke="#3c722e" stroke-width="4.6" stroke-dasharray="5 12.8 21.6 12.8" fill="none"/>
<text x="878.2" y="183.2" font-size="21.5">H<tspan font-size="14.75" dy="8.4">2</tspan><tspan dy="-8.4">O</tspan></text>
<path d="M818,209.3H865.1" stroke="#3a5b9e" stroke-width="4.6" stroke-dasharray="5 12.8 29.3 12.8" fill="none"/>
<text x="878.2" y="217.4" font-size="21.5">CO</text>
</svg></body></html>
